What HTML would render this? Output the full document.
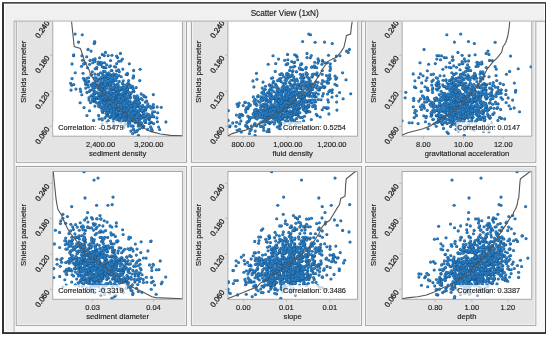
<!DOCTYPE html><html><head><meta charset="utf-8"><title>Scatter View (1xN)</title><style>html,body{margin:0;padding:0;background:#fff;overflow:hidden}svg{display:block}</style></head><body>
<svg width="550" height="338" viewBox="0 0 550 338" font-family="'Liberation Sans', Arial, sans-serif">
<defs><radialGradient id="g" cx="0.42" cy="0.4" r="0.62"><stop offset="0" stop-color="#3089cb"/><stop offset="0.55" stop-color="#2272b4"/><stop offset="1" stop-color="#154d83"/></radialGradient><marker id="d" markerUnits="userSpaceOnUse" markerWidth="6" markerHeight="6" refX="3" refY="3" overflow="visible"><circle cx="3" cy="3" r="1.55" fill="url(#g)"/></marker></defs>
<rect x="0" y="0" width="550" height="338" fill="#fff"/>
<rect x="2" y="2" width="544" height="332" fill="#333"/>
<rect x="2" y="2" width="544" height="1.6" fill="#4a4a4a"/>
<rect x="4" y="3.7" width="541" height="328.4" fill="#fff"/>
<rect x="5" y="4.7" width="539" height="326.3" fill="#f0f0f0"/>
<text x="284.7" y="15.9" font-size="8.2" text-anchor="middle" fill="#1c1c1c" stroke="#1c1c1c" stroke-width="0.15">Scatter View (1xN)</text>
<rect x="14" y="21" width="531" height="311" fill="#f7f7f7"/>
<line x1="14" y1="21.2" x2="545" y2="21.2" stroke="#9e9e9e" stroke-width="1"/>
<line x1="14.1" y1="21" x2="14.1" y2="332" stroke="#b0b0b0" stroke-width="1"/>
<svg x="14.6" y="21.7" width="530" height="309.5" overflow="hidden"><g transform="translate(-14.6,-21.7)">
<g transform="translate(16.3,3.4)">
<rect x="0" y="0" width="170.2" height="158.9" fill="#e4e4e4" stroke="#a4a4a4" stroke-width="1"/>
<rect x="1" y="1" width="168.2" height="156.9" fill="none" stroke="#f4f4f4" stroke-width="0.8"/>
<rect x="36.5" y="5" width="129.6" height="127.8" fill="#fff" stroke="#a9a9a9" stroke-width="1.0"/>
<line x1="33.5" y1="16.8" x2="36.5" y2="16.8" stroke="#aaa" stroke-width="0.7"/>
<text transform="translate(33.6,19.7) rotate(-55)" font-size="7.6" text-anchor="end" fill="#1c1c1c" stroke="#1c1c1c" stroke-width="0.3">0.240</text>
<line x1="33.5" y1="51.8" x2="36.5" y2="51.8" stroke="#aaa" stroke-width="0.7"/>
<text transform="translate(33.6,54.7) rotate(-55)" font-size="7.6" text-anchor="end" fill="#1c1c1c" stroke="#1c1c1c" stroke-width="0.3">0.180</text>
<line x1="33.5" y1="87.8" x2="36.5" y2="87.8" stroke="#aaa" stroke-width="0.7"/>
<text transform="translate(33.6,90.7) rotate(-55)" font-size="7.6" text-anchor="end" fill="#1c1c1c" stroke="#1c1c1c" stroke-width="0.3">0.120</text>
<line x1="33.5" y1="122.8" x2="36.5" y2="122.8" stroke="#aaa" stroke-width="0.7"/>
<text transform="translate(33.6,125.7) rotate(-55)" font-size="7.6" text-anchor="end" fill="#1c1c1c" stroke="#1c1c1c" stroke-width="0.3">0.060</text>
<text transform="translate(10,68.4) rotate(-90)" font-size="7.65" text-anchor="middle" fill="#1c1c1c" stroke="#1c1c1c" stroke-width="0.15">Shields parameter</text>
<line x1="84.2" y1="132.8" x2="84.2" y2="135.3" stroke="#aaa" stroke-width="0.7"/>
<text x="84.2" y="143.5" font-size="7.5" text-anchor="middle" fill="#1c1c1c" stroke="#1c1c1c" stroke-width="0.15">2,400.00</text>
<line x1="132.6" y1="132.8" x2="132.6" y2="135.3" stroke="#aaa" stroke-width="0.7"/>
<text x="132.6" y="143.5" font-size="7.5" text-anchor="middle" fill="#1c1c1c" stroke="#1c1c1c" stroke-width="0.15">3,200.00</text>
<text x="101.3" y="152.8" font-size="7.65" text-anchor="middle" fill="#1c1c1c" stroke="#1c1c1c" stroke-width="0.15">sediment density</text>
<clipPath id="c0"><rect x="36.5" y="5" width="129.6" height="127.8"/></clipPath>
<g clip-path="url(#c0)">
<polyline points="118,109.7 122.3,116 87.8,101.9 93.1,90.6 84.1,75.7 119.5,96.2 117.3,106.4 98.1,109.5 119.8,84.2 98.1,63.1 93.9,93.3 133.1,115 95.5,111.7 88,64.1 101.2,94.6 132.9,120.2 63.8,99.4 110.8,114.1 73.2,107.4 87.5,105.5 109.4,108.6 117.6,88.1 104.5,99 129.2,106.9 77.9,90.8 91.4,82.5 109.2,119.3 116,102.1 91.1,112 118.5,100.8 123.5,115.6 130.4,97.7 95.2,98.6 91.5,102.8 110.5,112.8 67.7,104.2 135.2,113.3 132.6,116.3 92.2,94.2 98,113.5 70.6,74.9 77.7,84.8 111.7,122.7 97.1,93.3 112.8,113.4 105.2,97.5 98.6,97.3 114.8,122.6 119.2,101.7 118.7,102.1 76.8,79.6 104.6,114.4 81.7,84.4 137.4,113.4 119.6,103.2 114.8,110.2 87.1,68 87.7,87.8 78.3,38.8 106.5,86.3 85.1,82.1 99.8,82.2 116.3,107.1 111.5,99.1 92.4,70.5 124.8,104.2 101.4,94.8 86.7,98.3 88.1,87 99.9,103.7 131.5,100.5 114,93.9 87,96.3 109.6,110.5 100.8,81 113.6,115.7 127.2,114.6 103.8,115.5 78.7,79.5 125.5,103.6 91.1,111.9 98.6,113.8 99.4,90.6 113.3,112.9 85.4,115.4 109.3,86.9 88.5,114.5 114.6,103.1 121.8,98.1 92.6,104.9 89.2,98.9 99.8,70.8 101.3,105.9 109.2,115.2 123,121.2 119.7,101.3 85,103.5 92.1,93.5 111,105.1 93,105.3 105.4,108.7 90.1,105.9 87,95.3 114.4,103.9 107.9,96.3 106.1,55.6 109.2,89.5 123.7,118.6 113,60.4 109.4,92 116.7,111.5 106.9,80.8 105,97.7 116.3,107.2 123,107.5 70.6,112.1 94.3,97.2 96.8,77.2 100.3,103.1 105.1,90.6 76.6,56.4 107.5,114.7 96.9,93.6 103.5,102.8 127.6,112.9 125.8,112.5 117.8,98.3 87.7,90.4 103.8,106.1 101.8,97.1 86.7,84.7 76.3,92.9 77.6,81.6 86.9,89.8 98.8,89.3 102.4,57.8 104.5,86.7 122.7,95.8 111.3,84.9 118,111.2 108.1,103.3 82.2,83.2 107.2,86.5 78.8,65.4 95.6,97.8 102.8,117.5 83.3,54.3 87.9,76.7 103.3,112.9 111,69.9 92.2,97.5 109.6,121 97.1,104.5 99,105.8 89.6,64.3 91.5,109.6 126.3,102 88.1,102.4 107.8,103.9 109.8,111.2 88.4,94.3 80.2,77 54.7,86.7 108.5,111.3 107.8,114 87.1,96 116.9,108.5 106.3,107.5 122.9,119.7 101.3,54.2 87.5,80.6 90.5,111.9 88.2,80.8 78.5,70.7 131.4,126 118.6,106.3 110.1,104 75.9,86.2 87.5,100 119.7,101.7 85.1,99 73.7,57 74.7,47.7 93.9,106 114.6,111.3 65.9,31.4 82.3,112 101.2,106.7 91.7,97.4 96.3,89.4 92.8,78.1 95.1,91.2 109.5,110.6 70.6,89 93.5,93.7 77.7,56.3 101.1,98.2 118.4,116.1 90.1,112.8 88.6,68 103.7,106.2 142.3,123.6 112,106.8 77.4,98 92.3,74.4 126.2,112.4 94,85.8 107.3,83.2 120.5,108.4 104,101 76.4,59.4 73.3,60.8 93.1,81.9 83.8,92.2 82.1,75.6 115.8,100.3 114.9,99.5 99.3,110.5 94.9,97.9 123.4,99.3 58.8,30.6 109.7,101.1 95.2,72.5 111,71.2 120.6,101 96.4,74.9 107.3,124.3 105,96.4 55.4,81.9 143.3,126.1 93.7,114.1 69,77.5 97.4,102.1 121.4,113.4 128,103.8 106.1,106.2 69.4,84.7 77.5,90 115.4,102.4 95.1,107.9 122.2,98.9 91.8,71.1 127.1,91.9 96.2,86.4 83,100.4 113.6,115.6 119.7,108.5 97.3,86.1 111.1,96.3 135.8,111 104.5,119.1 91.6,96.1 106.6,103.3 136.9,103.5 109.9,103.2 94,93.1 88.4,92.9 111.7,79.6 101.5,80.3 81.6,71 86.7,83 130.3,103.3 94.5,98.9 108.9,89.2 107.5,102.9 78.6,88.2 55.7,75.2 91.1,109.7 122,120.6 79.7,74.3 103.8,97.7 83.5,85 129.4,116.1 81.7,60.4 86.3,84.4 110.3,100 140.8,103.5 88.6,96.1 116.9,100.7 108.3,102.4 97.4,113.6 98.2,72.7 90.8,98.6 105.3,96.8 107.2,96.4 117,125.8 100.8,88.6 121.6,103.2 111.9,102.6 100.2,96.8 110.8,111.9 79.7,82.2 94.5,108.3 115.1,111 127.1,110.5 107.2,95.3 96.4,84.2 94,107 120.9,118 97.5,77.3 132.1,113 78.1,74.3 79.6,98.9 109.3,108.4 126.8,107.6 82.5,89.8 112.8,81.2 83,101.2 54.3,79.9 104.1,50 111.3,101.3 101.3,114 104,112.9 108.7,116.7 114.6,107.6 107.5,108.7 109.4,116 100,88.5 114.6,127.7 97,115.9 87.9,52.2 81.3,77.9 112,88.7 84.8,89.9 88.2,59.4 101.2,88.4 93.6,96.7 132,114.9 74.2,99.2 120.4,108.8 136.3,108.5 115.5,108.6 128.9,98.7 116.3,103.2 94.7,81.6 108.3,116 106.3,100.7 66.2,56.8 109.6,97.4 87.8,74.2 92.3,75.6 74.8,71.3 106.7,84.4 118.3,116.6 115.4,102.2 87.8,103.9 112.7,118.4 93,105.1 110.4,115.1 109.9,119.5 114.3,94.4 119.2,98.7 105.9,108.2 120.8,111.6 88.3,106.2 100.4,104.1 113.6,104.3 93.2,98.9 99.2,104.7 90,91.2 87.2,88.7 83.6,91.8 100.7,107.9 102.6,107.3 78.7,90.3 137,101.2 120.5,98.7 135.7,126.8 118.6,128.4 100.6,92.2 74.7,92.3 58.9,69.4 116.3,84.7 100,94.2 111.6,97.7 110.5,117.1 71.8,81.3 89.2,107.1 88.8,89.1 120,94.6 100.4,93.3 80.7,81.1 115.9,105.5 105.8,104 116.4,110.4 144.9,103.9 94.1,62.3 106.7,103.7 90.3,74.5 76.1,82.5 109.8,84.6 85.8,83 101.8,112.4 102.8,91.5 71.1,64.4 91.5,108.3 108.1,98.8 108.8,108.2 91.1,92.5 131.2,113.2 87.6,63.8 95.2,103.9 120,118.3 84.3,58.8 69.4,79.4 92.8,88.7 90.4,88.5 92.8,103.6 106.1,101.6 89,84.7 69.7,80.6 84.8,80.2 93.8,94.4 123.5,105.2 111,101.1 79.4,76.3 103,68.3 92.2,103.3 89.7,105.3 86.7,73 85.8,84.7 85.4,85.2 103.2,115.8 125.1,103.8 103.3,105.9 103.4,94.5 111.5,119.7 96.7,72.4 87.2,92.8 103,90.3 110.1,114.4 83.2,98.4 91.3,70.9 110.9,118.6 87.5,92.7 82.4,85.2 138.3,108.3 100.8,82.8 120.5,103.2 104.9,73.4 88.2,88.6 94.7,94.2 65.6,52.4 91.6,82.4 82.2,71.5 140.6,114.5 99.7,107.7 99.2,82.3 69.4,80.8 94.8,98.9 98.2,83.5 99.1,112.9 107.4,94.4 93.9,114 92.2,92.1 92,105.4 102.1,107.6 97.5,97.1 78.8,58.1 124.2,112.4 102,107.1 98,77.2 105.6,104.5 85.7,59.4 110.6,94.2 72.7,96.5 100.8,91.8 100.3,60.2 93.5,86.1 110.3,88.8 104.6,93.7 149.6,118.5 111.8,110.8 95.6,67.1 110.8,82.6 109.5,89 111.2,86.4 108.5,106.3 82.7,92.1 98.1,111 137,91.2 100.8,108.6 98.8,101.4 106.7,90 90.2,103.1 107,86.2 78.6,89.9 91.7,91.7 109.9,71.1 113.1,117.6 129.1,118.8 77.2,86.8 92.3,80.1 57.2,52.3 94.6,84 114.5,82.4 102.5,110.8 104.2,84.1 100.6,85.7 129.4,112.9 123,110.9 109.4,99.8 107.2,93 116.4,130.1 106.9,96.8 99.2,94.1 99.1,100.8 110.5,93.4 89.5,89.9 123.1,112.4 87,90.7 89.7,102 99.4,111.5 78.4,94.4 117.3,67 128.1,117.4 119,119.4 112.8,119.4 70.4,53.4 107.2,102 90.8,99 92.1,109.5 105.3,111.5 116.8,122.9 76.3,95.1 105.6,93.6 107.9,122.5 117.3,112.7 117.7,109 96.5,98.4 95,93.8 98.8,75.9 90.4,70.2 123.4,77.2 86.2,70.7 118.4,114.2 129.2,106.4 87.7,75.5 111.9,93 99.6,97.7 125.7,122.5 124.9,121.4 85.4,84.5 106.4,92.1 82.3,102.7 136.9,104.4 113.3,120.1 76.5,91.5 72.4,78 65.2,62.9 78.5,97.2 111.3,101.3 105.6,113.4 117.1,73.6 84.8,61.2 125.2,107.2 85.2,93 99.2,96.5 93.8,106.7 121,126.9 107.4,103.7 73.8,87 118.8,117.3 121.7,110.2 122.1,131.8 102.7,72.1 112.5,89.1 99.9,97.2 93.5,102.3 108.5,107.5 103.5,99.3 133.9,102.9 122.9,101.9 97.1,98.6 78.1,95.9 80.2,65.4 120.1,117.3 88.7,93.5 91.5,107.4 114.1,113.9 117.3,125.8 102.8,87 106.2,112.1 95.4,109.2 108.2,89.9 113.7,113.3 85,97.7 113.6,99.4 90.3,83.3 96.3,78.7 112.8,110.7 93.7,80.8 95.5,99.7 93.5,96.1 111.2,101.5 114.5,83.8 124.8,114.8 129.5,93.7 91.7,75 104.1,102.6 91.8,52.2 105.5,109 95.6,94.5 108.8,105.5 92.8,107.4 112.8,113.7 99.5,106.3 85.5,99 106.1,109.9 89.2,81.5 102.2,66.4 141.1,118.3 85.3,82.6 80.2,95 84.1,94 78.3,38.1 100.4,74.3 110.4,92.4 80.6,95.1 126.2,124.2 94,83.7 86.4,109 95.6,95 102.4,96.4 91.4,79.6 95.6,51.8 96.2,79.1 117.1,72.4 108.3,101.7 100.3,89.9 113.7,83.7 106.7,117.2 57.4,51.4 105.9,108.6 115.5,115.5 93.2,63.2 89.1,49 126.1,108.4 111.7,107.2 43.7,5.3 121.3,96.1 121.9,122.6 94.3,107.2 100.2,52.6 96.2,86 89.9,84.1 93.6,73.6 59.6,85.6 105.9,103.2 97.1,118.8 91,90.1 107.4,113.6 120.7,98.9 68.9,59.7 100.8,88.3 97.3,97 103.7,96.9 100.8,84.5 97.5,80.5 109.1,115.9 87.5,94.9 82.5,60.9 101,84 96.2,109.3 111.4,108.1 134.3,123.3 112.4,109.6 87.3,63.9 104.1,99.1 130.6,110.4 96.5,106.7 101.3,99.8 85.4,99.7 99.6,103.5 141.4,109.3 82.7,86.4 106.5,65.7 87.2,106.6 119.4,106.2 72.3,74.4 115.7,117.5 99.6,106.9 104.8,103.9 96.2,95.2 120.6,102.3 101,110.8 110.7,92.6 104.2,114.4 122.3,120.3 127.5,123 78.8,84.2 137.3,120.2 101.2,90.1 63.9,85.7 116.2,82.9 108.5,100.8 85.6,106.3 102.8,96.6 127.1,107 82.9,115.5 101.2,72.8 100.2,110.9 82.2,58.7 115.4,88.8 129.8,105 96.1,90.3 90.2,73.4 85.9,116.6 95.8,111.3 135.2,112.8 125,95.2 114.1,90.9 113.6,97.5 120.1,108.8 98.3,106 84.5,74.5 94.4,76.1 92.5,95.8 115.9,115.8 100.6,86.6 127.9,93 98.3,93.7 55.7,60.5 75.4,82.7 122.4,111.9 96.6,111.8 66.7,69.8 82.2,94.5 82.9,81.2 100.1,99.7 108.7,111.6 120.7,92.4 99.4,63.6 98.7,91 94.1,113 95.6,101.9 124.4,104.6 92.4,93.8 89.6,76.5 86,51 117.9,92.6 82.8,103.3 78.5,95.1 86.5,96.1 84.7,103.2 90,96 126,96.4 137.2,113.2 111.1,86.3 96.2,102.2 132.1,110.8 84.5,87.4 97.7,104.1 104.7,57.5 99.2,87.7 90.6,95.1 122.4,107.9 116.2,103 86.9,80.2 115.9,107.1 102,82.2 98.6,122.9 87.4,93.2 57.4,81.1 82.4,90.7 96.8,96.8 68.2,76.8 97.2,109.4 112.9,111.1 93.7,94.9 88.3,72.3 107.4,89 115.8,99.9 98.4,91.5 94.6,88.8 110.1,114.2 119.1,128.6 132.4,111.6 77.3,117 117.5,105.7 132.4,113.7 127.7,109.6 101.7,88.9 108.8,95.1 95.9,97.1 67.8,60.2 90.1,103.9 78.6,102.7 97.2,70.5 109.6,112.5 121.5,118.3 92.4,69.3 124.8,90.5 117,85.3 97.5,84.5 90.8,78.7 99.9,103.8 89.2,97.6 98.7,112.3 80.3,93.8 113.2,92.1 100.4,103.4 100.4,83.6 45.7,11.5 118.2,112.7 87.6,80 107,77.4 85.7,74.5 100.4,108.1 93.5,71.2 72,83.5 105.2,97.9 93.3,101.4 86.7,91.4 99.8,77.1 88,78.2 62.2,38.7 119,101.3 81.4,83.7 116.8,102.4 111.9,80.2 105,93.1 134.8,104.8 120,114.2 89.6,107.2 105.4,91 85.9,63.3 88.6,80.3 104.9,112.7 112.4,103.2 85.4,94.9 97.2,97.8 106.7,94.8 84.7,81.1 83.7,92.6 108.6,107.1 122.9,121.3 109.8,102.2 135.1,119 81,99.7 92.4,91.7 116.6,115.7 94.9,99.9 131.9,103.1 78.8,55.5 94.7,90.1 126.3,121.8 89.4,90.6 85.1,91.2 97.8,101.7 111.4,104.4 73,88.1 85.5,86.9 65.5,91.3 103.7,112.8 102.3,102.9 129.1,119.1 123.7,118.5 125.7,107.5 122.1,113.8 117.9,105.6 77.9,40.1 113.2,90.9 114.9,112 135,125 110.2,111.5 128.8,118.3 123.3,125.4 108.6,87.1 95.4,107.1 97.8,92.5 41.7,13.5 86.9,95.5 100.2,98.1 110.9,94.2 105.3,104.1 97.9,111.6 93.7,103.3 70.9,78.3 84.8,104.1 118.1,117.8 113.8,116.5 121,114 122.3,99.7 91.5,91.6 83.1,91.6 80.9,76.9 108.1,102.8 95.7,84.3 78.3,94 99.6,86.7 97.4,121.9 116.7,74.6 90.4,118.9 113.4,114.4 108.8,84.6 93,104.7 67.4,60.6 98.7,95.9 115.5,112.9 108.7,95.8 105.1,104.6 123.8,65.9 80.4,63.8 96.9,84.7 93.8,104.5 89.2,96.8 94.5,78 89.8,109.9 100.8,109.8 78.2,82.3 105.3,84.6 91,101.8 119.6,102.4 116.2,122.4 67.1,74.8 92.7,100 92,117.2 97.9,113.8 118.1,111 90.3,61.4 103.7,85.5 100.4,116.2 94.2,57.1 94,70.9 128.2,113 120.4,128.1 106,79.6 119,107.1 88.2,100.2 102.6,106 88.8,72.7 100.2,67.3 86.9,82.9 113.4,100.4 112.1,93.5 101,86.7 134.2,118.6 86.5,73.1 99.2,103 88.5,93.5 99,95.6 75.2,80.8 112.3,77.1 71.7,46 130.6,103.4 109.1,110.9 89.2,95.6 104.9,107.6 110.1,81.5 119.3,109.6 106.8,95.5 84,79.7 102.9,78 118.2,94.1 76,68.4 75,71.5 125.2,119.6 83.3,91.3 90,94.5 108.5,102.3 120.6,107.1 118.9,96.7 100.1,90.6 92.3,92.7 84.1,69.3 92.7,78.1 111.6,106.4 95,108.7 88.8,81.3 109.8,107.9 86.8,94.5 80.2,88.8 84.6,77.2 64.4,88 94.9,67.1 112.5,104.5 90.6,84.9 107.9,107.3 72.7,94.1 83.1,95.2 116.9,110.8 135.4,127.4 85.7,78.8 83.6,90.9 97.7,94.9 86,107.8 110.7,102.6 88,89.2 76.1,97 85.9,74.1 96.8,95.3 104.6,109.4 101.2,86.2 92.1,107 121.6,93.6 85.9,120.6 115,102.9 117.2,87.3 107.6,107.3" fill="none" stroke="none" marker-start="url(#d)" marker-mid="url(#d)" marker-end="url(#d)"/>
<polyline points="36.9,5 55.2,17.6 56.5,29.9 57.9,43.2 64.1,45 65.9,50.3 68.5,58.3 73,67.1 74.1,70.7 79.8,80.4 88,91 96.1,98.4 104.3,105.7 112.4,112.2 120.6,118.7 124,123 134.1,128 144.1,130.6 154.2,132 166.1,132.5" fill="none" stroke="#555" stroke-width="1.1"/>
</g>
<rect x="36.9" y="118.5" width="74" height="10.5" fill="#fff" fill-opacity="0.72"/>
<text x="41.9" y="126.4" font-size="7.4" fill="#1c1c1c" stroke="#1c1c1c" stroke-width="0.15">Correlation: -0.5479</text>
</g>
<g transform="translate(191.4,3.4)">
<rect x="0" y="0" width="170.2" height="158.9" fill="#e4e4e4" stroke="#a4a4a4" stroke-width="1"/>
<rect x="1" y="1" width="168.2" height="156.9" fill="none" stroke="#f4f4f4" stroke-width="0.8"/>
<rect x="36.5" y="5" width="129.6" height="127.8" fill="#fff" stroke="#a9a9a9" stroke-width="1.0"/>
<line x1="33.5" y1="16.8" x2="36.5" y2="16.8" stroke="#aaa" stroke-width="0.7"/>
<text transform="translate(33.6,19.7) rotate(-55)" font-size="7.6" text-anchor="end" fill="#1c1c1c" stroke="#1c1c1c" stroke-width="0.3">0.240</text>
<line x1="33.5" y1="51.8" x2="36.5" y2="51.8" stroke="#aaa" stroke-width="0.7"/>
<text transform="translate(33.6,54.7) rotate(-55)" font-size="7.6" text-anchor="end" fill="#1c1c1c" stroke="#1c1c1c" stroke-width="0.3">0.180</text>
<line x1="33.5" y1="87.8" x2="36.5" y2="87.8" stroke="#aaa" stroke-width="0.7"/>
<text transform="translate(33.6,90.7) rotate(-55)" font-size="7.6" text-anchor="end" fill="#1c1c1c" stroke="#1c1c1c" stroke-width="0.3">0.120</text>
<line x1="33.5" y1="122.8" x2="36.5" y2="122.8" stroke="#aaa" stroke-width="0.7"/>
<text transform="translate(33.6,125.7) rotate(-55)" font-size="7.6" text-anchor="end" fill="#1c1c1c" stroke="#1c1c1c" stroke-width="0.3">0.060</text>
<text transform="translate(10,68.4) rotate(-90)" font-size="7.65" text-anchor="middle" fill="#1c1c1c" stroke="#1c1c1c" stroke-width="0.15">Shields parameter</text>
<line x1="51.7" y1="132.8" x2="51.7" y2="135.3" stroke="#aaa" stroke-width="0.7"/>
<text x="51.7" y="143.5" font-size="7.5" text-anchor="middle" fill="#1c1c1c" stroke="#1c1c1c" stroke-width="0.15">800.00</text>
<line x1="96.5" y1="132.8" x2="96.5" y2="135.3" stroke="#aaa" stroke-width="0.7"/>
<text x="96.5" y="143.5" font-size="7.5" text-anchor="middle" fill="#1c1c1c" stroke="#1c1c1c" stroke-width="0.15">1,000.00</text>
<line x1="140.5" y1="132.8" x2="140.5" y2="135.3" stroke="#aaa" stroke-width="0.7"/>
<text x="140.5" y="143.5" font-size="7.5" text-anchor="middle" fill="#1c1c1c" stroke="#1c1c1c" stroke-width="0.15">1,200.00</text>
<text x="101.3" y="152.8" font-size="7.65" text-anchor="middle" fill="#1c1c1c" stroke="#1c1c1c" stroke-width="0.15">fluid density</text>
<clipPath id="c1"><rect x="36.5" y="5" width="129.6" height="127.8"/></clipPath>
<g clip-path="url(#c1)">
<polyline points="66.7,109.7 73.9,116 96.9,101.9 126.9,90.6 144.3,75.7 83.7,96.2 72.7,106.4 62.9,109.5 92.6,84.2 138.7,63.1 66.2,93.3 105.2,115 93.7,111.7 123.2,64.1 71.2,94.6 78.3,120.2 102.4,99.4 48.5,114.1 66.7,107.4 83.2,105.5 93.2,108.6 71.7,88.1 101.7,99 106.4,106.9 94.6,90.8 107.5,82.5 108.7,119.3 51.8,102.1 51.2,112 106.3,100.8 99.2,115.6 117.5,97.7 145.2,98.6 86,102.8 82.9,112.8 115.8,104.2 75.4,113.3 75,116.3 108,94.2 71.9,113.5 96.2,74.9 92.7,84.8 59.9,122.7 124.7,93.3 85.2,113.4 110.5,97.5 91.4,97.3 65.2,122.6 101.1,101.7 46.9,102.1 112.8,79.6 82.5,114.4 96.2,84.4 47.6,113.4 100.6,103.2 99.3,110.2 83.8,68 105.5,87.8 123.7,38.8 98.4,86.3 145.5,82.1 80.5,82.2 90.4,107.1 53.4,99.1 115.7,70.5 77.8,104.2 109.4,94.8 123.1,98.3 111.2,87 69.6,103.7 98.9,100.5 91.5,93.9 123.5,96.3 100.5,110.5 114,81 91.7,115.7 76.9,114.6 85.4,115.5 115.9,79.5 98.2,103.6 73.1,111.9 96.2,113.8 136.1,90.6 76.8,112.9 90.3,115.4 138.6,86.9 57.7,114.5 90.4,103.1 104.7,98.1 74.5,104.9 88.1,98.9 121.1,70.8 65,105.9 76.4,115.2 73.5,121.2 123,101.3 106.9,103.5 110.9,93.5 88.1,105.1 56.2,105.3 94.6,108.7 69.3,105.9 151.7,95.3 69.5,103.9 112.6,96.3 87.1,55.6 78,89.5 55.8,118.6 138.9,60.4 93.9,92 72.9,111.5 143.6,80.8 108.2,97.7 73.4,107.2 83.4,107.5 82.9,112.1 101.3,97.2 111.8,77.2 89.7,103.1 95.6,90.6 106.3,56.4 73.6,114.7 98.9,93.6 99.7,102.8 91.9,112.9 93,112.5 124.3,98.3 159.3,90.4 102.4,106.1 84.8,97.1 70.8,84.7 113.3,92.9 102.7,81.6 101.1,89.8 70.3,89.3 131.3,57.8 119.3,86.7 95.1,95.8 119.3,84.9 86.8,111.2 102.6,103.3 92.6,83.2 128,86.5 114.4,65.4 111.7,97.8 112.2,117.5 118.9,54.3 101.4,76.7 107.2,112.9 65,69.9 77.9,97.5 62.9,121 84.2,104.5 93,105.8 108,64.3 67.8,109.6 117.6,102 122.2,102.4 89.4,103.9 91.5,111.2 95.8,94.3 105.3,77 78,86.7 69.9,111.3 58.1,114 87.8,96 100.8,108.5 79.4,107.5 78.7,119.7 115.6,54.2 99.1,80.6 80.3,111.9 120.2,80.8 122.4,70.7 77.5,126 78.3,106.3 92.9,104 127.5,86.2 87.8,100 85.6,101.7 104.7,99 131,57 155.1,47.7 102,106 104.5,111.3 119.1,31.4 63.5,112 54.2,106.7 109.9,97.4 124.4,89.4 110.5,78.1 99.4,91.2 94.3,110.6 140.6,89 71,93.7 96.4,56.3 92.7,98.2 119.9,116.1 81.3,112.8 101.1,68 80.8,106.2 85.9,123.6 91.1,106.8 76.8,98 109.5,74.4 64.2,112.4 73.7,85.8 122.2,83.2 74.2,108.4 75.6,101 135.9,59.4 130.5,60.8 99,81.9 103.6,92.2 87.7,75.6 73.2,100.3 120.4,99.5 61.7,110.5 110.8,97.9 94.9,99.3 117.3,30.6 87.3,101.1 126.5,72.5 111.7,71.2 108.3,101 80.1,74.9 56.3,124.3 136.4,96.4 84.7,81.9 76.9,126.1 108.9,114.1 61.5,77.5 58,102.1 84.1,113.4 75.3,103.8 63.6,106.2 113.8,84.7 121.7,90 94.3,102.4 76.3,107.9 68.3,98.9 88.5,71.1 111.1,91.9 126.5,86.4 63.6,100.4 84,115.6 76.5,108.5 73,86.1 111.3,96.3 96,111 106,119.1 75.1,96.1 91.2,103.3 74.4,103.5 102.1,103.2 83.4,93.1 117.4,92.9 137.2,79.6 109.1,80.3 124.8,71 101.4,83 111.3,103.3 93.7,98.9 94.4,89.2 114.7,102.9 137.5,88.2 138.8,75.2 66.6,109.7 67.6,120.6 81.3,74.3 87.5,97.7 105.3,85 99.3,116.1 110.3,60.4 101.5,84.4 110.4,100 117.1,103.5 64,96.1 45.6,100.7 104.8,102.4 99.8,113.6 100.3,72.7 137,98.6 97,96.8 129.6,96.4 59.8,125.8 98.1,88.6 78.4,103.2 122,102.6 118.5,96.8 96.8,111.9 105.5,82.2 82.7,108.3 106.5,111 137.5,110.5 97.2,95.3 106.8,84.2 94.5,107 56.9,118 118.9,77.3 83.7,113 112.6,74.3 118.8,98.9 107.2,108.4 114,107.6 87.3,89.8 99.9,81.2 95.8,101.2 94.2,79.9 115.6,50 110.7,101.3 90.7,114 99.7,112.9 103.3,116.7 85.2,107.6 80.3,108.7 87.2,116 91.2,88.5 63.8,127.7 74.4,115.9 119.9,52.2 110.2,77.9 86.5,88.7 77.5,89.9 102.5,59.4 90.9,88.4 88.8,96.7 77.6,114.9 101.3,99.2 84.5,108.8 95.8,108.5 106.1,108.6 115.3,98.7 112.2,103.2 78.2,81.6 89.3,116 89.9,100.7 93.3,56.8 115.5,97.4 111.6,74.2 105.4,75.6 115.4,71.3 132.8,84.4 100.9,116.6 102.6,102.2 87.1,103.9 96,118.4 124.1,105.1 100.5,115.1 41.3,119.5 112.7,94.4 107.6,98.7 117.4,108.2 45,111.6 90.9,106.2 113.2,104.1 108,104.3 54.1,98.9 56.7,104.7 117.8,91.2 118.3,88.7 86.2,91.8 98.4,107.9 115.9,107.3 101.7,90.3 98.2,101.2 94.3,98.7 72.3,126.8 77.7,128.4 80.3,92.2 145.3,92.3 114.7,69.4 116.9,84.7 78.9,94.2 84.4,97.7 101,117.1 110.6,81.3 78.3,107.1 85.5,89.1 110.2,94.6 103,93.3 116.1,81.1 79.2,105.5 96.4,104 98.8,110.4 87.5,103.9 122.9,62.3 72.8,103.7 110.3,74.5 119.7,82.5 100.3,84.6 91.5,83 125.9,112.4 84.6,91.5 125.3,64.4 118.5,108.3 99.5,98.8 78.2,108.2 102.4,92.5 92.6,113.2 114.7,63.8 74.7,103.9 80.3,118.3 123.4,58.8 81.6,79.4 103.4,88.7 95.3,88.5 115.5,103.6 69.4,101.6 101.1,84.7 84,80.6 120,80.2 111.2,94.4 88.6,105.2 71.8,101.1 154.6,76.3 104.9,68.3 100,103.3 107.9,105.3 97.2,73 103.8,84.7 109.3,85.2 88.5,115.8 107.3,103.8 76.5,105.9 112.1,94.5 93.2,119.7 99.4,72.4 119.8,92.8 88,90.3 78.5,114.4 94,98.4 130.7,70.9 69.5,118.6 106.6,92.7 87,85.2 75.3,108.3 74,82.8 89.1,103.2 92.2,73.4 89.7,88.6 92.6,94.2 81.6,52.4 112.7,82.4 138.3,71.5 95.6,114.5 84.4,107.7 106.3,82.3 123.3,80.8 86.8,98.9 109.8,83.5 113.1,112.9 83.8,94.4 80.9,114 99.5,92.1 81.1,105.4 66.8,107.6 95.8,97.1 100.3,58.1 85.6,112.4 86.7,107.1 86.1,77.2 54.9,104.5 133.3,59.4 73.8,94.2 97.6,96.5 113.5,91.8 84.3,60.2 96.7,86.1 76.5,88.8 85.6,93.7 103.5,118.5 91.3,110.8 130.9,67.1 115.7,82.6 109.8,89 93.3,86.4 130.8,106.3 78.9,92.1 50.1,111 95.6,91.2 70.3,108.6 104,101.4 85.1,90 106.3,103.1 95.8,86.2 79.6,89.9 95.4,91.7 100.8,71.1 96.2,117.6 45.2,118.8 80.6,86.8 117.7,80.1 148.5,52.3 106.4,84 115,82.4 102.8,110.8 108.5,84.1 120.7,85.7 70.9,112.9 124.9,110.9 57.3,99.8 107,93 58,130.1 70.6,96.8 81.8,94.1 111.7,100.8 84.7,93.4 94.7,89.9 101,112.4 85.2,90.7 94.8,102 80.2,111.5 86.6,94.4 98.2,67 94,117.4 89.1,119.4 98.8,119.4 105.6,53.4 74.8,102 95.4,99 81.4,109.5 88.2,111.5 44.4,122.9 82.6,95.1 140.6,93.6 54.3,122.5 91.9,112.7 67.4,109 87.5,98.4 99.9,93.8 65.5,75.9 90.1,70.2 131.1,77.2 96.9,70.7 70.1,114.2 112.1,106.4 102.7,75.5 100.3,93 97.3,97.7 87.7,122.5 98,121.4 118.8,84.5 66.7,92.1 124,102.7 93.7,104.4 90.3,120.1 100,91.5 89.5,78 103.2,62.9 74.5,97.2 116.9,101.3 94.4,113.4 120.7,73.6 94.7,61.2 79.5,107.2 110.3,93 63.2,96.5 145.5,106.7 45.8,126.9 77.3,103.7 89.2,87 57.8,117.3 88,110.2 63.6,131.8 135.1,72.1 148.1,89.1 96.7,97.2 93.7,102.3 75.9,107.5 91.8,99.3 111.7,102.9 91.9,101.9 103.5,98.6 103.9,95.9 139.1,65.4 71.8,117.3 112.7,93.5 65.7,107.4 67.6,113.9 48.1,125.8 98.6,87 74.1,112.1 100.3,109.2 115.7,89.9 69.4,113.3 76.4,97.7 112.9,99.4 133.5,83.3 71.6,78.7 86.3,110.7 107.6,80.8 88.9,99.7 97.5,96.1 71,101.5 81.1,83.8 64.6,114.8 100.4,93.7 117.8,75 115,102.6 104.9,52.2 100.7,109 93.6,94.5 90.3,105.5 95.4,107.4 91.3,113.7 73.5,106.3 92.2,99 72.7,109.9 109.8,81.5 111.2,66.4 76.1,118.3 131.6,82.6 93.4,95 81.6,94 111.2,38.1 94.4,74.3 98.8,92.4 112.5,95.1 72.1,124.2 79.6,83.7 89.7,109 95.6,95 121,96.4 135.8,79.6 137.1,51.8 97.9,79.1 138.1,72.4 102.1,101.7 106.5,89.9 84,83.7 95.6,117.2 103.2,51.4 75.8,108.6 58.3,115.5 123.6,63.2 156.8,49 83.8,108.4 71.6,107.2 160.6,5.3 126.8,96.1 70.8,122.6 114.8,107.2 144.9,52.6 121,86 129.9,84.1 98.3,73.6 93.9,85.6 85,103.2 83.2,118.8 113.4,90.1 128.8,113.6 78.6,98.9 126.4,59.7 82.4,88.3 113.9,97 84.9,96.9 109.4,84.5 93.1,80.5 82.5,115.9 90.9,94.9 76.8,60.9 85.9,84 87.2,109.3 85.5,108.1 38.3,123.3 88.6,109.6 99.2,63.9 83.8,99.1 67,110.4 104.6,106.7 64.2,99.8 89.6,99.7 81,103.5 96.5,109.3 140.9,86.4 109.9,65.7 84.6,106.6 69.9,106.2 136.8,74.4 49.5,117.5 94.9,106.9 106.2,103.9 86.9,95.2 101.8,102.3 89.8,110.8 110.6,92.6 87.7,114.4 48.2,120.3 69.1,123 128,84.2 63.6,120.2 85.3,90.1 79.1,85.7 121.8,82.9 79.9,100.8 84,106.3 103.4,96.6 93.9,107 65.8,115.5 120.7,72.8 78.1,110.9 103.3,58.7 72.1,88.8 135.5,105 118.3,90.3 102.3,73.4 85.7,116.6 96.6,111.3 93.1,112.8 79.1,95.2 72.1,90.9 79.6,97.5 63.3,108.8 88.2,106 145.3,74.5 136.9,76.1 75.3,95.8 75.3,115.8 116.1,86.6 123.1,93 92.1,93.7 95.9,60.5 116.7,82.7 66.1,111.9 78.1,111.8 95.5,69.8 83.5,94.5 114.6,81.2 47.8,99.7 62.3,111.6 77.3,92.4 101.8,63.6 117.1,91 72.3,113 65.2,101.9 86.8,104.6 97.5,93.8 137.4,76.5 96.1,51 83.9,92.6 56.8,103.3 71.7,95.1 96.3,96.1 121.1,103.2 95.2,96 102.2,96.4 95.9,113.2 86,86.3 86.6,102.2 99.7,110.8 103.6,87.4 134.8,104.1 127.3,57.5 111.6,87.7 85.6,95.1 103.5,107.9 91.3,103 113.9,80.2 93.6,107.1 125.6,82.2 55.6,122.9 111.6,93.2 114.9,81.1 123.3,90.7 91.7,96.8 93.8,76.8 114.9,109.4 103,111.1 103.3,94.9 110.9,72.3 108,89 93.7,99.9 86.4,91.5 99.3,88.8 73.3,114.2 49.9,128.6 76.6,111.6 36.7,117 73.6,105.7 81.4,113.7 75.2,109.6 77.1,88.9 79.8,95.1 112.4,97.1 96.3,60.2 77.5,103.9 111.4,102.7 115.4,70.5 97,112.5 74.2,118.3 151.1,69.3 105.6,90.5 97.3,85.3 90.6,84.5 114.3,78.7 107.4,103.8 66.4,97.6 98,112.3 85.9,93.8 89.6,92.1 82,103.4 106.3,83.6 148.6,11.5 56.4,112.7 103.4,80 106,77.4 109.5,74.5 99.8,108.1 91.1,71.2 62.5,83.5 62.5,97.9 65.5,101.4 114.7,91.4 103.2,77.1 135.2,78.2 133.1,38.7 82.1,101.3 92.6,83.7 116.9,102.4 130.2,80.2 74.8,93.1 111.7,104.8 60.1,114.2 36.9,107.2 74.3,91 120.5,63.3 106.5,80.3 75.2,112.7 94.5,103.2 84.9,94.9 87.6,97.8 111,94.8 117.7,81.1 121.5,92.6 87.5,107.1 104,121.3 85,102.2 76.8,119 99,99.7 114.3,91.7 89.1,115.7 96.2,99.9 98.9,103.1 126.6,55.5 131.9,90.1 88.9,121.8 113.9,90.6 98.5,91.2 59,101.7 103.7,104.4 101.3,88.1 118,86.9 110.3,91.3 94.9,112.8 100.2,102.9 55.5,119.1 100.7,118.5 98.4,107.5 71.1,113.8 81.8,105.6 140.8,40.1 102.2,90.9 74.6,112 87.9,125 89.3,111.5 77.1,118.3 88.8,125.4 85.7,87.1 63.3,107.1 131,92.5 108.6,13.5 99.9,95.5 114.6,98.1 95.6,94.2 94.6,104.1 71.1,111.6 99.9,103.3 124.8,78.3 132.5,104.1 87.1,117.8 75.5,116.5 110.9,114 105.1,99.7 108.4,91.6 109.1,91.6 99.6,76.9 95.2,102.8 124.7,84.3 78.7,94 92.7,86.7 54.6,121.9 116.7,74.6 87.4,118.9 70.7,114.4 106.4,84.6 105.5,104.7 109.7,60.6 73.4,95.9 99.3,112.9 69.6,95.8 103,104.6 108.6,65.9 120.2,63.8 95.4,84.7 74.9,104.5 117.9,96.8 117.4,78 105,109.9 105.3,109.8 114,82.3 113.2,84.6 71.3,101.8 112.3,102.4 38.6,122.4 89.4,74.8 97.7,100 87.4,117.2 62.6,113.8 48.4,111 109.1,61.4 91.1,85.5 84.7,116.2 143.5,57.1 108.9,70.9 88.4,113 75.6,128.1 91.5,79.6 65.9,107.1 63.4,100.2 74.3,106 143.6,72.7 101.5,67.3 95.7,82.9 74,100.4 61.9,93.5 118.6,86.7 71.4,118.6 115.6,73.1 46.5,103 69.3,93.5 95.1,95.6 114.6,80.8 87.8,77.1 158,46 101.1,103.4 68.8,110.9 92.8,95.6 114.5,107.6 77.8,81.5 64.9,109.6 92.8,95.5 116.8,79.7 82.1,78 87,94.1 105.2,68.4 95.1,71.5 88.9,119.6 96.9,91.3 82.3,94.5 87.1,102.3 113.4,107.1 102.1,96.7 90.5,90.6 100.2,92.7 125.6,69.3 132.1,78.1 83.5,106.4 54.5,108.7 116.8,81.3 104.2,107.9 109.7,94.5 118.9,88.8 94.9,77.2 104.9,88 138.5,67.1 136.8,104.5 108.7,84.9 64.2,107.3 109.3,94.1 80.8,95.2 82.4,110.8 58.7,127.4 126.5,78.8 90.1,90.9 89.7,94.9 88.4,107.8 80.8,102.6 105.7,89.2 71,97 111.5,74.1 102.4,95.3 108.5,109.4 97.3,86.2 89.2,107 98.7,93.6 82.8,120.6 79.3,102.9 117.3,87.3 89.1,107.3" fill="none" stroke="none" marker-start="url(#d)" marker-mid="url(#d)" marker-end="url(#d)"/>
<polyline points="36.2,132.5 40.8,130.2 47,128.3 53.3,127 59.5,124.6 65.7,121.5 71.9,118.3 78.1,114.6 84.4,110.3 87.5,108.3 96.4,103 105.2,95.9 114.1,87.9 123,79 127.7,72.1 131.8,64.6 136.8,58 141,55.5 145.1,53.9 149.2,48.9 152.5,43.9 154.2,36.5 155,32.3 157.5,31.2 159.2,30.7 160,23.2 160.8,18.3 161.1,11.6 165.6,5" fill="none" stroke="#555" stroke-width="1.1"/>
</g>
<rect x="90.6" y="118.5" width="65.5" height="10.5" fill="#fff" fill-opacity="0.72"/>
<text x="154.6" y="126.4" font-size="7.4" fill="#1c1c1c" text-anchor="end" stroke="#1c1c1c" stroke-width="0.15">Correlation: 0.5254</text>
</g>
<g transform="translate(365.6,3.4)">
<rect x="0" y="0" width="170.2" height="158.9" fill="#e4e4e4" stroke="#a4a4a4" stroke-width="1"/>
<rect x="1" y="1" width="168.2" height="156.9" fill="none" stroke="#f4f4f4" stroke-width="0.8"/>
<rect x="36.5" y="5" width="129.6" height="127.8" fill="#fff" stroke="#a9a9a9" stroke-width="1.0"/>
<line x1="33.5" y1="16.8" x2="36.5" y2="16.8" stroke="#aaa" stroke-width="0.7"/>
<text transform="translate(33.6,19.7) rotate(-55)" font-size="7.6" text-anchor="end" fill="#1c1c1c" stroke="#1c1c1c" stroke-width="0.3">0.240</text>
<line x1="33.5" y1="51.8" x2="36.5" y2="51.8" stroke="#aaa" stroke-width="0.7"/>
<text transform="translate(33.6,54.7) rotate(-55)" font-size="7.6" text-anchor="end" fill="#1c1c1c" stroke="#1c1c1c" stroke-width="0.3">0.180</text>
<line x1="33.5" y1="87.8" x2="36.5" y2="87.8" stroke="#aaa" stroke-width="0.7"/>
<text transform="translate(33.6,90.7) rotate(-55)" font-size="7.6" text-anchor="end" fill="#1c1c1c" stroke="#1c1c1c" stroke-width="0.3">0.120</text>
<line x1="33.5" y1="122.8" x2="36.5" y2="122.8" stroke="#aaa" stroke-width="0.7"/>
<text transform="translate(33.6,125.7) rotate(-55)" font-size="7.6" text-anchor="end" fill="#1c1c1c" stroke="#1c1c1c" stroke-width="0.3">0.060</text>
<text transform="translate(10,68.4) rotate(-90)" font-size="7.65" text-anchor="middle" fill="#1c1c1c" stroke="#1c1c1c" stroke-width="0.15">Shields parameter</text>
<line x1="57.7" y1="132.8" x2="57.7" y2="135.3" stroke="#aaa" stroke-width="0.7"/>
<text x="57.7" y="143.5" font-size="7.5" text-anchor="middle" fill="#1c1c1c" stroke="#1c1c1c" stroke-width="0.15">8.00</text>
<line x1="97.9" y1="132.8" x2="97.9" y2="135.3" stroke="#aaa" stroke-width="0.7"/>
<text x="97.9" y="143.5" font-size="7.5" text-anchor="middle" fill="#1c1c1c" stroke="#1c1c1c" stroke-width="0.15">10.00</text>
<line x1="137.7" y1="132.8" x2="137.7" y2="135.3" stroke="#aaa" stroke-width="0.7"/>
<text x="137.7" y="143.5" font-size="7.5" text-anchor="middle" fill="#1c1c1c" stroke="#1c1c1c" stroke-width="0.15">12.00</text>
<text x="101.3" y="152.8" font-size="7.65" text-anchor="middle" fill="#1c1c1c" stroke="#1c1c1c" stroke-width="0.15">gravitational acceleration</text>
<clipPath id="c2"><rect x="36.5" y="5" width="129.6" height="127.8"/></clipPath>
<g clip-path="url(#c2)">
<polyline points="99.8,109.7 84,116 120.7,101.9 119.2,90.6 86,75.7 71.1,96.2 112,106.4 98.1,109.5 97.2,84.2 110.4,63.1 81.3,93.3 135.8,115 83.4,111.7 120.6,64.1 107.5,94.6 81.5,120.2 106.5,99.4 106.7,114.1 113.5,107.4 75.7,105.5 117.8,108.6 91.9,88.1 80.2,99 89,106.9 97.6,90.8 90.3,82.5 46.5,119.3 99.6,102.1 84.4,112 127,100.8 78.3,115.6 53.2,97.7 93.5,98.6 107.1,102.8 60.7,112.8 84.5,104.2 75.9,113.3 77,116.3 113,94.2 100.4,113.5 111.1,74.9 80.9,84.8 94.7,122.7 112.6,93.3 106.9,113.4 87.9,97.5 69.3,97.3 93.2,122.6 102.3,101.7 90.3,102.1 95.5,79.6 99.7,114.4 117.8,84.4 118.8,113.4 96.3,103.2 83.6,110.2 144,68 75.4,87.8 129.5,38.8 135.7,86.3 88.7,82.1 127.2,82.2 72.5,107.1 81.2,99.1 54.8,70.5 100.5,104.2 84.3,94.8 107.9,98.3 140.4,87 58.1,103.7 132.5,100.5 81.4,93.9 82.3,96.3 117.4,110.5 90.2,81 98.9,115.7 93.9,114.6 95.4,115.5 56.1,79.5 93,103.6 83.2,111.9 104.8,113.8 94.4,90.6 65.5,112.9 80.7,115.4 86.8,86.9 87.3,114.5 106.6,103.1 96.6,98.1 128.3,104.9 65.8,98.9 88.4,70.8 85.9,105.9 98,115.2 76.8,121.2 76.8,101.3 82.9,103.5 119.7,93.5 119.6,105.1 144.9,105.3 99.4,108.7 112.2,105.9 113.5,95.3 114.5,103.9 92.3,96.3 71.2,55.6 103.7,89.5 71.5,118.6 96.2,60.4 82.7,92 90.3,111.5 108.2,80.8 98.6,97.7 98.8,107.2 110.7,107.5 113.3,112.1 97.1,97.2 84.8,77.2 85.8,103.1 109.2,90.6 74.9,56.4 102.3,114.7 88,93.6 74.5,102.8 100.3,112.9 88,112.5 87.7,98.3 105.3,90.4 83.6,106.1 91.8,97.1 90.8,84.7 86.2,92.9 66.1,81.6 85.5,89.8 89.2,89.3 99.8,57.8 92.5,86.7 80.5,95.8 81.5,84.9 80.8,111.2 81.2,103.3 79.4,83.2 71.8,86.5 101.9,65.4 110,97.8 118.8,117.5 80.7,54.3 67.6,76.7 122.5,112.9 109,69.9 109.2,97.5 86.6,121 102.6,104.5 121.2,105.8 100.6,64.3 102.8,109.6 76.3,102 83.4,102.4 88.5,103.9 90,111.2 78.7,94.3 90.2,77 120.6,86.7 96.2,111.3 77.3,114 112.7,96 107.4,108.5 100.5,107.5 86.3,119.7 78.6,54.2 89.7,80.6 76,111.9 118.4,80.8 114.4,70.7 91.7,126 103.5,106.3 107.5,104 106.9,86.2 78.7,100 85.6,101.7 114.5,99 123.9,57 122.3,47.7 135,106 66.2,111.3 81.2,31.4 111.8,112 71.7,106.7 109.9,97.4 85.3,89.4 111.2,78.1 130.3,91.2 107.1,110.6 113.3,89 108.8,93.7 87.4,56.3 115.5,98.2 67.2,116.1 114.1,112.8 100,68 80.5,106.2 108.6,123.6 49.6,106.8 104.9,98 70.6,74.4 70.6,112.4 86.3,85.8 73.6,83.2 77.8,108.4 83.9,101 84.1,59.4 111.9,60.8 115.9,81.9 97,92.2 117.2,75.6 97.7,100.3 110.9,99.5 73,110.5 96,97.9 96.6,99.3 95.1,30.6 115.6,101.1 109.9,72.5 94.8,71.2 64.4,101 71.9,74.9 92.2,124.3 91.7,96.4 96.5,81.9 94.2,126.1 118.5,114.1 114.7,77.5 105.7,102.1 94.9,113.4 81.2,103.8 75.7,106.2 103.3,84.7 105.8,90 109.1,102.4 108,107.9 93.5,98.9 88.5,71.1 109.2,91.9 66.7,86.4 79.5,100.4 91.8,115.6 104.3,108.5 126.5,86.1 100.2,96.3 127.2,111 83.7,119.1 93.1,96.1 106.9,103.3 88.5,103.5 92.1,103.2 98.4,93.1 127.7,92.9 100.2,79.6 73.4,80.3 95.3,71 78.2,83 47.7,103.3 118,98.9 131.3,89.2 96.1,102.9 110.3,88.2 104.6,75.2 95.2,109.7 88.5,120.6 94.9,74.3 94.9,97.7 97.2,85 81.9,116.1 116.3,60.4 50.2,84.4 120.1,100 111.7,103.5 72.1,96.1 83.1,100.7 70.1,102.4 106.7,113.6 94.6,72.7 129.8,98.6 103.9,96.8 83.9,96.4 90.5,125.8 92.4,88.6 110.3,103.2 91.9,102.6 80.1,96.8 81,111.9 128.2,82.2 73.6,108.3 89.9,111 89.4,110.5 96.1,95.3 81.5,84.2 61.6,107 75.8,118 49.3,77.3 73.2,113 114.7,74.3 101.3,98.9 153.9,108.4 50.7,107.6 101.6,89.8 121.2,81.2 65.5,101.2 87.8,79.9 120.6,50 56.5,101.3 134,114 83.9,112.9 106.2,116.7 89.6,107.6 103.7,108.7 111.5,116 125.9,88.5 92.8,127.7 92.3,115.9 103.6,52.2 96.2,77.9 112.9,88.7 79.1,89.9 54.4,59.4 99.8,88.4 84.5,96.7 99,114.9 124.5,99.2 111.7,108.8 94.1,108.5 84.9,108.6 88.1,98.7 102.2,103.2 93.5,81.6 115.4,116 79.6,100.7 86.8,56.8 113.9,97.4 53.2,74.2 108.6,75.6 108.8,71.3 114.7,84.4 95.3,116.6 100.7,102.2 85.6,103.9 73.2,118.4 131.3,105.1 94.1,115.1 90.9,119.5 70.8,94.4 90,98.7 103.7,108.2 50.7,111.6 71.6,106.2 113.4,104.1 104.6,104.3 96.9,98.9 89.8,104.7 73.7,91.2 120.2,88.7 92.8,91.8 69,107.9 85.6,107.3 82.4,90.3 111.9,101.2 104.6,98.7 108.5,126.8 123.4,128.4 77.5,92.2 81.1,92.3 116.3,69.4 101.5,84.7 102.4,94.2 103.1,97.7 87.6,117.1 94.1,81.3 108.7,107.1 94.1,89.1 103,94.6 115.3,93.3 119.4,81.1 74.7,105.5 115,104 91.9,110.4 112.2,103.9 88.1,62.3 95.1,103.7 114.9,74.5 87.3,82.5 86.9,84.6 112.8,83 50.8,112.4 104.9,91.5 85.4,64.4 85.2,108.3 93.6,98.8 91.5,108.2 56.9,92.5 83.6,113.2 83.7,63.8 105.7,103.9 80.1,118.3 111.3,58.8 71.4,79.4 149.8,88.7 92,88.5 87.4,103.6 117.7,101.6 61.8,84.7 112.7,80.6 118.7,80.2 39.5,94.4 85.8,105.2 81.2,101.1 80.4,76.3 115,68.3 68.5,103.3 105.7,105.3 95.6,73 123.9,84.7 100.9,85.2 67.8,115.8 83.2,103.8 95.5,105.9 109.8,94.5 76.1,119.7 74.4,72.4 112.6,92.8 90.7,90.3 60.3,114.4 60.9,98.4 97.9,70.9 103.8,118.6 90.3,92.7 87.2,85.2 66,108.3 100.2,82.8 116.3,103.2 108.9,73.4 87.9,88.6 114.3,94.2 73.5,52.4 71,82.4 99.1,71.5 74.1,114.5 110,107.7 99.6,82.3 83.4,80.8 58.9,98.9 120.1,83.5 78,112.9 85.1,94.4 117.1,114 78.3,92.1 98.1,105.4 86.9,107.6 48.1,97.1 96.5,58.1 96.2,112.4 106,107.1 80.1,77.2 103.6,104.5 112.7,59.4 77.3,94.2 104.4,96.5 80.4,91.8 97.3,60.2 119.7,86.1 40.2,88.8 75.2,93.7 98.4,118.5 122,110.8 105,67.1 98.6,82.6 113.2,89 89.7,86.4 102.3,106.3 109.8,92.1 66.1,111 114.4,91.2 80.1,108.6 98.4,101.4 114.9,90 114.4,103.1 118.1,86.2 77.5,89.9 113.9,91.7 65.6,71.1 76.5,117.6 93.2,118.8 150.1,86.8 72.2,80.1 75.9,52.3 108,84 82.5,82.4 105.1,110.8 114.9,84.1 99.2,85.7 91,112.9 95.5,110.9 67.9,99.8 100.5,93 82.7,130.1 89.5,96.8 77.9,94.1 91.5,100.8 103.2,93.4 135.4,89.9 71.1,112.4 107,90.7 76.5,102 87,111.5 97.8,94.4 102.7,67 118.5,117.4 76.4,119.4 43.6,119.4 86.9,53.4 75.5,102 106.8,99 128.5,109.5 101,111.5 91.7,122.9 126.5,95.1 99.1,93.6 93,122.5 123.9,112.7 90.3,109 61.2,98.4 61.7,93.8 102.4,75.9 117.4,70.2 84.7,77.2 67.9,70.7 113.1,114.2 67.5,106.4 87.6,75.5 108.9,93 92.7,97.7 100.1,122.5 122.7,121.4 73.3,84.5 88.6,92.1 107.1,102.7 90.1,104.4 77.5,120.1 114.6,91.5 72.7,78 112.4,62.9 110.7,97.2 98.7,101.3 86.9,113.4 86.8,73.6 93.6,61.2 100.6,107.2 130.5,93 109.4,96.5 120.1,106.7 98.6,126.9 102.9,103.7 62.6,87 72.8,117.3 65.4,110.2 98.7,131.8 130.4,72.1 116.7,89.1 114.9,97.2 105.4,102.3 98.6,107.5 90.3,99.3 83.4,102.9 77.4,101.9 88.7,98.6 136.8,95.9 152.6,65.4 36.4,117.3 83.1,93.5 68.2,107.4 107.4,113.9 106.6,125.8 101.5,87 73.9,112.1 117,109.2 106.4,89.9 96.6,113.3 95.6,97.7 79,99.4 59.4,83.3 93.6,78.7 92.4,110.7 71,80.8 99.1,99.7 88.5,96.1 79.7,101.5 112.3,83.8 124.3,114.8 91.2,93.7 96.1,75 77.5,102.6 71.4,52.2 114.5,109 94,94.5 93.6,105.5 78.2,107.4 100.6,113.7 123.1,106.3 74,99 117.2,109.9 103.3,81.5 94.4,66.4 103.2,118.3 91.1,82.6 79.3,95 79.2,94 102.8,38.1 61.5,74.3 78.7,92.4 127.3,95.1 106.3,124.2 85.3,83.7 79.2,109 82,95 96.1,96.4 104.7,79.6 96.5,51.8 127.6,79.1 78.5,72.4 85.2,101.7 107.6,89.9 129.7,83.7 85.3,117.2 109.5,51.4 95,108.6 139.1,115.5 129.5,63.2 92.3,49 83.2,108.4 76,107.2 165.4,5.3 74.1,96.1 101.7,122.6 88.3,107.2 144.9,52.6 98.4,86 106.9,84.1 101.3,73.6 70.6,85.6 98.5,103.2 79.6,118.8 124.4,90.1 123.8,113.6 66.1,98.9 112.7,59.7 131.7,88.3 63.3,97 88.2,96.9 86.9,84.5 85.6,80.5 89.5,115.9 69.9,94.9 63,60.9 132.2,84 49,109.3 118.1,108.1 128.4,123.3 87.9,109.6 90.9,63.9 140.5,99.1 100.2,110.4 82.2,106.7 102,99.8 123.7,99.7 121.2,103.5 103.4,109.3 61.4,86.4 130.6,65.7 112,106.6 94.2,106.2 100.8,74.4 88.1,117.5 82.2,106.9 94.3,103.9 68.9,95.2 82.4,102.3 97.2,110.8 91.9,92.6 78.9,114.4 68.8,120.3 85,123 86.4,84.2 52.5,120.2 115.7,90.1 108.4,85.7 111.1,82.9 93.3,100.8 109.1,106.3 91.8,96.6 103.1,107 85,115.5 107.3,72.8 110.3,110.9 116.1,58.7 135,88.8 91.7,105 132.9,90.3 123.4,73.4 94.7,116.6 84.3,111.3 95.1,112.8 107.3,95.2 126,90.9 95.1,97.5 111.3,108.8 97.4,106 92.5,74.5 98.3,76.1 104.4,95.8 113.2,115.8 118,86.6 120.4,93 103,93.7 113.3,60.5 91.5,82.7 74.3,111.9 71.2,111.8 90.5,69.8 85.1,94.5 137.8,81.2 115.8,99.7 97.7,111.6 99,92.4 80.4,63.6 102.4,91 91.2,113 67.9,101.9 88.2,104.6 121.8,93.8 85.6,76.5 123.3,51 124.8,92.6 97.3,103.3 78.1,95.1 124.9,96.1 71.1,103.2 96.2,96 88.1,96.4 78.6,113.2 105.4,86.3 58.2,102.2 102.4,110.8 116.2,87.4 125.1,104.1 102.9,57.5 92.8,87.7 99.7,95.1 121.6,107.9 86.4,103 124.3,80.2 89.3,107.1 106,82.2 70.6,122.9 107.9,93.2 70.4,81.1 119,90.7 94,96.8 77.4,76.8 95.3,109.4 73.6,111.1 61.8,94.9 57.4,72.3 66.9,89 82.5,99.9 112.9,91.5 86.9,88.8 95.4,114.2 81.4,128.6 102.3,111.6 132.3,117 108.2,105.7 95.8,113.7 84,109.6 111.8,88.9 120.9,95.1 106.2,97.1 69.7,60.2 106.9,103.9 115.3,102.7 47.6,70.5 91.2,112.5 59.8,118.3 86.2,69.3 116,90.5 117.9,85.3 67.1,84.5 87.9,78.7 68.2,103.8 93.3,97.6 58.2,112.3 98.6,93.8 92.9,92.1 72,103.4 101.6,83.6 159.4,11.5 106.3,112.7 134.5,80 93.4,77.4 116.4,74.5 105.5,108.1 109.5,71.2 48.9,83.5 100.9,97.9 75,101.4 97.6,91.4 60.5,77.1 92.3,78.2 88.8,38.7 73.6,101.3 73.5,83.7 105.1,102.4 98.3,80.2 97.4,93.1 124.5,104.8 48.6,114.2 71.6,107.2 140.2,91 165.4,63.3 117.5,80.3 97.1,112.7 107.3,103.2 84.8,94.9 100.6,97.8 48,94.8 96.7,81.1 111.8,92.6 117,107.1 102.9,121.3 110.1,102.2 91.7,119 97.7,99.7 95.8,91.7 72.6,115.7 67.4,99.9 69.6,103.1 98.7,55.5 76.4,90.1 102.6,121.8 77.9,90.6 108.4,91.2 91.5,101.7 113.3,104.4 105.3,88.1 84.1,86.9 116.5,91.3 88,112.8 77,102.9 71.7,119.1 110.4,118.5 86.8,107.5 124.5,113.8 113.2,105.6 108.7,40.1 84.7,90.9 89,112 77.9,125 113.3,111.5 87.2,118.3 62.4,125.4 93.6,87.1 117.4,107.1 83,92.5 149.4,13.5 78.8,95.5 85.4,98.1 114.8,94.2 86.3,104.1 102.7,111.6 54.7,103.3 92.6,78.3 131.9,104.1 110,117.8 87.1,116.5 118.9,114 87.8,99.7 125.1,91.6 119.5,91.6 104.3,76.9 85.8,102.8 85.6,84.3 88.7,94 133,86.7 91.2,121.9 97.7,74.6 106.2,118.9 115.9,114.4 125.4,84.6 58.8,104.7 115.3,60.6 77.6,95.9 76.9,112.9 70.3,95.8 79,104.6 77.2,65.9 103.3,63.8 88.6,84.7 102,104.5 71.8,96.8 66.3,78 85.5,109.9 88.2,109.8 110.7,82.3 97.8,84.6 89.2,101.8 143.4,102.4 110.3,122.4 90.3,74.8 97.2,100 111.1,117.2 97.6,113.8 95.5,111 101.9,61.4 104.2,85.5 119.3,116.2 126.7,57.1 140.8,70.9 74.5,113 117.9,128.1 148.7,79.6 78.1,107.1 85.9,100.2 55.8,106 118.6,72.7 61.7,67.3 101.2,82.9 130.3,100.4 58.1,93.5 108.9,86.7 96.1,118.6 103.4,73.1 120.1,103 108.2,93.5 58.7,95.6 88.7,80.8 131.1,77.1 58.4,46 99.2,103.4 87.9,110.9 120.5,95.6 94.9,107.6 77.1,81.5 116.4,109.6 54.8,95.5 81.6,79.7 85.5,78 102.1,94.1 117.3,68.4 102.2,71.5 126.1,119.6 115,91.3 102.3,94.5 88.4,102.3 106.7,107.1 147,96.7 87.4,90.6 96,92.7 97.6,69.3 94.3,78.1 72.3,106.4 68.7,108.7 91.3,81.3 107,107.9 142.5,94.5 90.8,88.8 83.7,77.2 55.6,88 104.6,67.1 148.5,104.5 84.1,84.9 73.4,107.3 135.4,94.1 103.5,95.2 94.6,110.8 92.5,127.4 86.1,78.8 121.7,90.9 61.4,94.9 75.2,107.8 57.2,102.6 94.5,89.2 76,97 107.1,74.1 89.3,95.3 97.4,109.4 86.5,86.2 70.3,107 120.9,93.6 63.5,120.6 65.9,102.9 86,87.3 109.1,107.3" fill="none" stroke="none" marker-start="url(#d)" marker-mid="url(#d)" marker-end="url(#d)"/>
<polyline points="35.9,132.5 36.7,131.6 42.1,129.3 49.8,127.3 57.5,125.4 65.2,122.4 68.2,120.1 72.9,117.3 80.6,112.4 88.2,107 94.4,102.4 100.1,96.6 109.4,85.9 116.1,76.6 121.4,65.9 126.7,59.3 132.1,53.9 136.1,48.6 137.4,43.3 140.1,39.3 142.2,32.6 143.5,24.6 144.1,17.9 144.2,10.6 165.9,5" fill="none" stroke="#555" stroke-width="1.1"/>
</g>
<rect x="90.6" y="118.5" width="65.5" height="10.5" fill="#fff" fill-opacity="0.72"/>
<text x="154.6" y="126.4" font-size="7.4" fill="#1c1c1c" text-anchor="end" stroke="#1c1c1c" stroke-width="0.15">Correlation: 0.0147</text>
</g>
<g transform="translate(16.3,166.5)">
<rect x="0" y="0" width="170.2" height="158.9" fill="#e4e4e4" stroke="#a4a4a4" stroke-width="1"/>
<rect x="1" y="1" width="168.2" height="156.9" fill="none" stroke="#f4f4f4" stroke-width="0.8"/>
<rect x="36.5" y="5" width="129.6" height="127.8" fill="#fff" stroke="#a9a9a9" stroke-width="1.0"/>
<line x1="33.5" y1="16.8" x2="36.5" y2="16.8" stroke="#aaa" stroke-width="0.7"/>
<text transform="translate(33.6,19.7) rotate(-55)" font-size="7.6" text-anchor="end" fill="#1c1c1c" stroke="#1c1c1c" stroke-width="0.3">0.240</text>
<line x1="33.5" y1="51.8" x2="36.5" y2="51.8" stroke="#aaa" stroke-width="0.7"/>
<text transform="translate(33.6,54.7) rotate(-55)" font-size="7.6" text-anchor="end" fill="#1c1c1c" stroke="#1c1c1c" stroke-width="0.3">0.180</text>
<line x1="33.5" y1="87.8" x2="36.5" y2="87.8" stroke="#aaa" stroke-width="0.7"/>
<text transform="translate(33.6,90.7) rotate(-55)" font-size="7.6" text-anchor="end" fill="#1c1c1c" stroke="#1c1c1c" stroke-width="0.3">0.120</text>
<line x1="33.5" y1="122.8" x2="36.5" y2="122.8" stroke="#aaa" stroke-width="0.7"/>
<text transform="translate(33.6,125.7) rotate(-55)" font-size="7.6" text-anchor="end" fill="#1c1c1c" stroke="#1c1c1c" stroke-width="0.3">0.060</text>
<text transform="translate(10,68.4) rotate(-90)" font-size="7.65" text-anchor="middle" fill="#1c1c1c" stroke="#1c1c1c" stroke-width="0.15">Shields parameter</text>
<line x1="76.3" y1="132.8" x2="76.3" y2="135.3" stroke="#aaa" stroke-width="0.7"/>
<text x="76.3" y="143.5" font-size="7.5" text-anchor="middle" fill="#1c1c1c" stroke="#1c1c1c" stroke-width="0.15">0.03</text>
<line x1="137.2" y1="132.8" x2="137.2" y2="135.3" stroke="#aaa" stroke-width="0.7"/>
<text x="137.2" y="143.5" font-size="7.5" text-anchor="middle" fill="#1c1c1c" stroke="#1c1c1c" stroke-width="0.15">0.04</text>
<text x="101.3" y="152.8" font-size="7.65" text-anchor="middle" fill="#1c1c1c" stroke="#1c1c1c" stroke-width="0.15">sediment diameter</text>
<clipPath id="c3"><rect x="36.5" y="5" width="129.6" height="127.8"/></clipPath>
<g clip-path="url(#c3)">
<polyline points="65.2,109.7 112.2,116 81.9,101.9 89.5,90.6 69.2,75.7 84,96.2 75.1,106.4 118.8,109.5 62.6,84.2 66.6,63.1 44.5,93.3 110.2,115 84.5,111.7 89.2,64.1 77.1,94.6 95.9,120.2 84.2,99.4 108.8,114.1 95.9,107.4 59.1,105.5 69,108.6 69,88.1 100.2,99 98.1,106.9 80.4,90.8 57.7,82.5 76.1,119.3 59.6,102.1 107.4,112 86.9,100.8 118.5,115.6 40.8,97.7 78,98.6 97.8,102.8 117.8,112.8 83.4,104.2 120,113.3 61.8,116.3 80.2,94.2 110.1,113.5 54.8,74.9 60.8,84.8 134.9,122.7 72.8,93.3 109.7,113.4 72.2,97.5 75.1,97.3 76.7,122.6 81.1,101.7 107.4,102.1 78.5,79.6 84.9,114.4 131.6,84.4 83.3,113.4 98.7,103.2 86.5,110.2 97.1,68 86.1,87.8 91.6,38.8 105.3,86.3 83.4,82.1 71.8,82.2 82.5,107.1 71.9,99.1 112.7,70.5 95.3,104.2 63.6,94.8 80.1,98.3 67.7,87 85.8,103.7 88.8,100.5 75.2,93.9 83,96.3 74.4,110.5 43.3,81 78.2,115.7 100.9,114.6 77.3,115.5 62.1,79.5 72.3,103.6 74.7,111.9 82.2,113.8 95.4,90.6 121.9,112.9 93.9,115.4 76,86.9 64.1,114.5 142.6,103.1 87.9,98.1 88.2,104.9 59.2,98.9 55.5,70.8 72,105.9 82.6,115.2 103.8,121.2 64,101.3 90.4,103.5 123.5,93.5 107.2,105.1 68.4,105.3 94.8,108.7 90.6,105.9 70.3,95.3 112.1,103.9 65.4,96.3 90.8,55.6 97.8,89.5 79.9,118.6 65,60.4 59.5,92 75.6,111.5 56.7,80.8 123.7,97.7 61.1,107.2 118.5,107.5 86.8,112.1 88.6,97.2 95.2,77.2 97.7,103.1 110.4,90.6 100,56.4 99,114.7 106.3,93.6 103.1,102.8 90.4,112.9 96,112.5 88.9,98.3 81,90.4 118.6,106.1 58.6,97.1 79.3,84.7 68.9,92.9 114.4,81.6 72.3,89.8 89.6,89.3 54.5,57.8 85.6,86.7 101.5,95.8 78.5,84.9 98.4,111.2 91.2,103.3 87.4,83.2 81,86.5 84.5,65.4 136.7,97.8 94.9,117.5 87.9,54.3 94.9,76.7 104.6,112.9 99,69.9 90.1,97.5 113.6,121 75,104.5 82.5,105.8 84.3,64.3 88.9,109.6 113.8,102 93.8,102.4 102.2,103.9 112.5,111.2 103.9,94.3 63.5,77 74,86.7 77.1,111.3 76.3,114 66.9,96 89.5,108.5 106.3,107.5 79.2,119.7 44.5,54.2 58.7,80.6 97.1,111.9 64.4,80.8 83.9,70.7 78.7,126 122.3,106.3 85.3,104 97.9,86.2 88.4,100 87.1,101.7 84.1,99 44.1,57 46.6,47.7 107.1,106 82.9,111.3 68.7,31.4 124.2,112 104.2,106.7 75.9,97.4 113.6,89.4 63.8,78.1 55,91.2 84.7,110.6 113.6,89 78.4,93.7 63.9,56.3 77.1,98.2 65.3,116.1 84,112.8 106.8,68 93.8,106.2 114.5,123.6 90.2,106.8 58.4,98 68.2,74.4 97.5,112.4 96.4,85.8 90.3,83.2 80.6,108.4 65.1,101 93.8,59.4 80.5,60.8 89.9,81.9 60.3,92.2 86.6,75.6 87.4,100.3 104,99.5 149.4,110.5 100.3,97.9 122,99.3 96.7,30.6 76.6,101.1 112.4,72.5 85.4,71.2 135.4,101 85.2,74.9 104.2,124.3 66.3,96.4 83.9,81.9 107.3,126.1 109.9,114.1 119,77.5 37.4,102.1 64.8,113.4 82.4,103.8 92.1,106.2 96.8,84.7 89.3,90 63.5,102.4 98.1,107.9 78.6,98.9 61.9,71.1 56.5,91.9 101.5,86.4 68,100.4 102.6,115.6 82.9,108.5 74.1,86.1 68.4,96.3 37.4,111 86.5,119.1 103.8,96.1 80,103.3 72.3,103.5 101.9,103.2 75.1,93.1 56.2,92.9 89.8,79.6 57.5,80.3 84.3,71 72.1,83 97.6,103.3 85.8,98.9 83.7,89.2 69.8,102.9 89.2,88.2 124.8,75.2 103.2,109.7 114.8,120.6 55.3,74.3 77.1,97.7 62.9,85 135.2,116.1 71.3,60.4 67.3,84.4 109.1,100 95.4,103.5 61.4,96.1 97.2,100.7 68.6,102.4 102.1,113.6 75.9,72.7 137.1,98.6 72,96.8 87.6,96.4 97.6,125.8 80.3,88.6 106.1,103.2 83.4,102.6 92,96.8 65.7,111.9 89.5,82.2 125.7,108.3 85.9,111 111.4,110.5 83.5,95.3 68.6,84.2 71.4,107 121.4,118 97.7,77.3 65.1,113 49.2,74.3 79.3,98.9 71.2,108.4 78,107.6 78.8,89.8 73.2,81.2 76.8,101.2 73.9,79.9 51.1,50 72.5,101.3 104.5,114 85.1,112.9 73.5,116.7 81.7,107.6 83.3,108.7 82.5,116 66.6,88.5 139.8,127.7 105.7,115.9 80.7,52.2 66.7,77.9 83.3,88.7 67.2,89.9 66.4,59.4 66.4,88.4 65.9,96.7 123.1,114.9 77,99.2 83.5,108.8 77.9,108.5 68.5,108.6 81.3,98.7 87.2,103.2 92.9,81.6 127.1,116 84.9,100.7 49.4,56.8 67.4,97.4 77.2,74.2 76.7,75.6 85.9,71.3 54.5,84.4 72,116.6 85.1,102.2 101.2,103.9 59,118.4 83.5,105.1 105.7,115.1 62.5,119.5 75,94.4 96.7,98.7 55.8,108.2 102.3,111.6 123.8,106.2 103.4,104.1 82.5,104.3 87.9,98.9 48.4,104.7 87.4,91.2 87.3,88.7 67.9,91.8 93.1,107.9 87.7,107.3 78.4,90.3 109.9,101.2 63.2,98.7 93.2,126.8 84.6,128.4 76.9,92.2 79.3,92.3 62.9,69.4 60.6,84.7 66.6,94.2 112.1,97.7 91.7,117.1 95.6,81.3 80.3,107.1 70.9,89.1 67.2,94.6 78.6,93.3 64.2,81.1 97.3,105.5 135.5,104 66.5,110.4 65.1,103.9 79.6,62.3 84.6,103.7 134.8,74.5 120.7,82.5 68.8,84.6 80.1,83 108,112.4 127.1,91.5 54.3,64.4 101.8,108.3 99.5,98.8 71.7,108.2 59.6,92.5 73.2,113.2 39.1,63.8 116.6,103.9 83.1,118.3 77.8,58.8 91.9,79.4 89.1,88.7 54.9,88.5 102.5,103.6 78.6,101.6 76.7,84.7 68.8,80.6 96.2,80.2 143.9,94.4 64.2,105.2 88.7,101.1 54.7,76.3 78.9,68.3 73.3,103.3 81.7,105.3 77.9,73 90.9,84.7 53.8,85.2 107.9,115.8 64.5,103.8 93.8,105.9 108.5,94.5 65.9,119.7 63,72.4 40.6,92.8 97.2,90.3 71.7,114.4 133.1,98.4 91.3,70.9 49.9,118.6 90.2,92.7 75.7,85.2 82.8,108.3 108.4,82.8 140,103.2 66.9,73.4 120,88.6 66.3,94.2 76.1,52.4 68.6,82.4 49.4,71.5 80.2,114.5 62.7,107.7 111.6,82.3 86.7,80.8 99.9,98.9 56.5,83.5 77.1,112.9 52.8,94.4 73.6,114 53.4,92.1 111.9,105.4 75.1,107.6 93.9,97.1 59.2,58.1 109.5,112.4 98.1,107.1 73.9,77.2 55.6,104.5 86.6,59.4 88.7,94.2 64.8,96.5 45.7,91.8 67.2,60.2 124.4,86.1 85.6,88.8 77.7,93.7 77.7,118.5 130,110.8 52.6,67.1 49.5,82.6 56.1,89 75.2,86.4 84.3,106.3 54.6,92.1 107.9,111 105.7,91.2 77.5,108.6 99.3,101.4 87.7,90 89.9,103.1 86.6,86.2 95.3,89.9 62.6,91.7 114.2,71.1 78.9,117.6 79.9,118.8 83.2,86.8 59.1,80.1 80.4,52.3 69.6,84 51.1,82.4 114.7,110.8 65.7,84.1 83.2,85.7 126.9,112.9 135.2,110.9 117.4,99.8 67.1,93 98.1,130.1 52.9,96.8 95.7,94.1 95.6,100.8 78.3,93.4 59.5,89.9 71.4,112.4 99.9,90.7 110.8,102 82,111.5 82.7,94.4 68.2,67 67.2,117.4 101.1,119.4 86.6,119.4 68.3,53.4 58,102 70.3,99 80.9,109.5 73.2,111.5 100.5,122.9 94.4,95.1 108.1,93.6 73.8,122.5 107.3,112.7 77.9,109 80.9,98.4 80.4,93.8 62.8,75.9 59.3,70.2 87,77.2 88.4,70.7 82.8,114.2 81.8,106.4 100.5,75.5 74,93 61,97.7 88.5,122.5 86.5,121.4 54.7,84.5 66.8,92.1 92.1,102.7 87.1,104.4 73.9,120.1 78.7,91.5 80.8,78 57,62.9 105.6,97.2 87.7,101.3 72.3,113.4 68.7,73.6 72.9,61.2 100.4,107.2 103,93 91,96.5 80.1,106.7 116.6,126.9 106.3,103.7 82.4,87 145,117.3 79,110.2 95.5,131.8 86.6,72.1 67.7,89.1 113.1,97.2 88,102.3 115.6,107.5 118.2,99.3 50.3,102.9 52.6,101.9 82.8,98.6 96.7,95.9 86.9,65.4 90.5,117.3 101.5,93.5 79.6,107.4 102.6,113.9 125.6,125.8 77.8,87 98.7,112.1 79.7,109.2 73.5,89.9 48.5,113.3 98.6,97.7 64.3,99.4 113.2,83.3 52.8,78.7 82.1,110.7 58.8,80.8 75.3,99.7 89,96.1 85.8,101.5 96.8,83.8 136.8,114.8 94.7,93.7 134.3,75 94.8,102.6 84.5,52.2 99.1,109 80.6,94.5 95.1,105.5 74.2,107.4 119.1,113.7 73.6,106.3 107.3,99 43.4,109.9 74.6,81.5 94.6,66.4 116.1,118.3 116,82.6 63.6,95 116.6,94 95.8,38.1 48.4,74.3 82.8,92.4 76.1,95.1 115.7,124.2 98.3,83.7 80.4,109 120.8,95 56.7,96.4 79.3,79.6 46.5,51.8 54.5,79.1 86.4,72.4 124,101.7 74.8,89.9 65.1,83.7 89.5,117.2 70.3,51.4 86.4,108.6 145.8,115.5 106.3,63.2 83.7,49 65.6,108.4 85.9,107.2 67.7,5.3 88.8,96.1 85.8,122.6 49.8,107.2 84.6,52.6 61.5,86 87.1,84.1 75.5,73.6 84.9,85.6 124.8,103.2 110.7,118.8 68.6,90.1 67.7,113.6 92.3,98.9 99.9,59.7 68.7,88.3 73.1,97 87.4,96.9 116.8,84.5 66.1,80.5 70.7,115.9 77.4,94.9 71.6,60.9 80.7,84 102.1,109.3 104.1,108.1 87.4,123.3 62.1,109.6 69.1,63.9 97,99.1 97.2,110.4 92.5,106.7 90.6,99.8 43.9,99.7 107.7,103.5 85.4,109.3 53.5,86.4 82.8,65.7 74.1,106.6 92.6,106.2 101.6,74.4 90.8,117.5 82.5,106.9 105.5,103.9 100.1,95.2 69.6,102.3 78.6,110.8 75.5,92.6 81.1,114.4 46.5,120.3 84.2,123 85,84.2 82.3,120.2 114.9,90.1 86.7,85.7 58,82.9 63.3,100.8 113.1,106.3 61.7,96.6 119.1,107 55.4,115.5 68.7,72.8 97.1,110.9 82.9,58.7 82.8,88.8 65.9,105 93.2,90.3 56.2,73.4 103.3,116.6 66.5,111.3 83.4,112.8 78.9,95.2 77.3,90.9 114.1,97.5 110.7,108.8 69.3,106 100.3,74.5 76.2,76.1 80.7,95.8 130.5,115.8 72.3,86.6 54.7,93 55.2,93.7 95.5,60.5 79.8,82.7 97.4,111.9 83,111.8 62.5,69.8 115.4,94.5 67.8,81.2 94.1,99.7 114.3,111.6 99.1,92.4 77.2,63.6 86.3,91 71.6,113 80.8,101.9 62.3,104.6 65.4,93.8 50.8,76.5 75.2,51 71.9,92.6 101.2,103.3 91.1,95.1 62.3,96.1 99,103.2 49.4,96 102.6,96.4 100,113.2 85.5,86.3 68.6,102.2 66.1,110.8 78,87.4 79.2,104.1 79.1,57.5 70.1,87.7 72.3,95.1 63.3,107.9 86.2,103 60.5,80.2 83.4,107.1 88.7,82.2 106.1,122.9 89.1,93.2 78.8,81.1 66.6,90.7 103.4,96.8 77.3,76.8 57.2,109.4 91.5,111.1 73.4,94.9 67.5,72.3 66.1,89 79.8,99.9 98.1,91.5 76.6,88.8 107.5,114.2 99.6,128.6 92.3,111.6 98.2,117 92.7,105.7 68.7,113.7 91,109.6 98.6,88.9 97.8,95.1 109.6,97.1 56.4,60.2 53.5,103.9 54.3,102.7 68.2,70.5 60.3,112.5 99.4,118.3 65.4,69.3 89.1,90.5 91.1,85.3 67.2,84.5 82.9,78.7 75.5,103.8 77.1,97.6 109.8,112.3 69.6,93.8 76.6,92.1 98.2,103.4 65.1,83.6 81.7,11.5 72.3,112.7 52.9,80 38.1,77.4 94.2,74.5 50.5,108.1 75.3,71.2 67,83.5 96.5,97.9 73.7,101.4 59.6,91.4 64.3,77.1 68.1,78.2 80.3,38.7 84.5,101.3 69.5,83.7 58.5,102.4 64.2,80.2 99.1,93.1 50.7,104.8 72.2,114.2 83.7,107.2 73.8,91 67.2,63.3 93,80.3 68,112.7 89.1,103.2 79,94.9 70.3,97.8 54,94.8 59,81.1 103.1,92.6 89.1,107.1 70.5,121.3 77.5,102.2 82.2,119 119.1,99.7 56.4,91.7 69.5,115.7 100.4,99.9 84,103.1 71.6,55.5 73.8,90.1 120.2,121.8 84.5,90.6 104.9,91.2 62,101.7 72.8,104.4 65.1,88.1 82.7,86.9 64.8,91.3 114.8,112.8 107.8,102.9 87.9,119.1 138.2,118.5 99.5,107.5 79.1,113.8 85.7,105.6 55.4,40.1 67.3,90.9 111.3,112 122,125 90.9,111.5 85.4,118.3 76.4,125.4 60.9,87.1 95.1,107.1 88.4,92.5 77.7,13.5 77,95.5 68.4,98.1 82.5,94.2 120.1,104.1 68.9,111.6 73,103.3 72.4,78.3 72.3,104.1 75.3,117.8 62.1,116.5 64.1,114 82,99.7 129.8,91.6 68.1,91.6 51.5,76.9 75.7,102.8 102,84.3 106.1,94 73.3,86.7 109.6,121.9 52.8,74.6 89.8,118.9 84.3,114.4 106.8,84.6 71.9,104.7 60.9,60.6 97.9,95.9 80.3,112.9 45.3,95.8 70.1,104.6 43.2,65.9 62.9,63.8 90.5,84.7 76.4,104.5 62,96.8 63.7,78 76.8,109.9 122.1,109.8 79.3,82.3 97.2,84.6 106.3,101.8 93.6,102.4 75.4,122.4 77.5,74.8 91.3,100 82.7,117.2 71.6,113.8 75,111 75.2,61.4 72.1,85.5 71.7,116.2 77,57.1 60.9,70.9 110.9,113 116.4,128.1 75.5,79.6 95.8,107.1 72.9,100.2 84.8,106 87.5,72.7 58.6,67.3 96.5,82.9 62.1,100.4 122.6,93.5 86.5,86.7 67.3,118.6 68.2,73.1 50.8,103 100.2,93.5 65.1,95.6 74.3,80.8 56,77.1 71.3,46 111.5,103.4 98.7,110.9 110.4,95.6 100.2,107.6 104.6,81.5 98,109.6 81.4,95.5 88.1,79.7 66.9,78 60.6,94.1 95.1,68.4 59,71.5 97,119.6 76.4,91.3 75.8,94.5 78.7,102.3 69.9,107.1 119.8,96.7 110.7,90.6 65.4,92.7 66.3,69.3 49,78.1 68.5,106.4 105.6,108.7 102.8,81.3 121.9,107.9 75.6,94.5 90.9,88.8 60.3,77.2 81.1,88 80,67.1 90.2,104.5 65.4,84.9 75.9,107.3 111.7,94.1 62.4,95.2 73.1,110.8 88.2,127.4 61.8,78.8 60,90.9 51.6,94.9 95.8,107.8 104.9,102.6 95.6,89.2 82,97 75.4,74.1 60,95.3 85.8,109.4 82.5,86.2 73.6,107 59.5,93.6 111.3,120.6 66.2,102.9 67.1,87.3 122.1,107.3" fill="none" stroke="none" marker-start="url(#d)" marker-mid="url(#d)" marker-end="url(#d)"/>
<polyline points="37,5 37.8,13.5 38.9,24.2 39.7,32.2 40.5,37.5 41.6,42.8 45,48.2 49,57.5 53,65.5 58.4,72.2 63.7,78.8 69,85.5 74.4,92.2 82.6,94.8 91.4,102.8 100.3,109.9 109.2,116.1 118,121.4 126.9,125.8 135.7,130.3 139.3,131.1 166.1,132.3" fill="none" stroke="#555" stroke-width="1.1"/>
</g>
<rect x="36.9" y="118.5" width="74" height="10.5" fill="#fff" fill-opacity="0.72"/>
<text x="41.9" y="126.4" font-size="7.4" fill="#1c1c1c" stroke="#1c1c1c" stroke-width="0.15">Correlation: -0.3319</text>
</g>
<g transform="translate(191.4,166.5)">
<rect x="0" y="0" width="170.2" height="158.9" fill="#e4e4e4" stroke="#a4a4a4" stroke-width="1"/>
<rect x="1" y="1" width="168.2" height="156.9" fill="none" stroke="#f4f4f4" stroke-width="0.8"/>
<rect x="36.5" y="5" width="129.6" height="127.8" fill="#fff" stroke="#a9a9a9" stroke-width="1.0"/>
<line x1="33.5" y1="16.8" x2="36.5" y2="16.8" stroke="#aaa" stroke-width="0.7"/>
<text transform="translate(33.6,19.7) rotate(-55)" font-size="7.6" text-anchor="end" fill="#1c1c1c" stroke="#1c1c1c" stroke-width="0.3">0.240</text>
<line x1="33.5" y1="51.8" x2="36.5" y2="51.8" stroke="#aaa" stroke-width="0.7"/>
<text transform="translate(33.6,54.7) rotate(-55)" font-size="7.6" text-anchor="end" fill="#1c1c1c" stroke="#1c1c1c" stroke-width="0.3">0.180</text>
<line x1="33.5" y1="87.8" x2="36.5" y2="87.8" stroke="#aaa" stroke-width="0.7"/>
<text transform="translate(33.6,90.7) rotate(-55)" font-size="7.6" text-anchor="end" fill="#1c1c1c" stroke="#1c1c1c" stroke-width="0.3">0.120</text>
<line x1="33.5" y1="122.8" x2="36.5" y2="122.8" stroke="#aaa" stroke-width="0.7"/>
<text transform="translate(33.6,125.7) rotate(-55)" font-size="7.6" text-anchor="end" fill="#1c1c1c" stroke="#1c1c1c" stroke-width="0.3">0.060</text>
<text transform="translate(10,68.4) rotate(-90)" font-size="7.65" text-anchor="middle" fill="#1c1c1c" stroke="#1c1c1c" stroke-width="0.15">Shields parameter</text>
<line x1="52" y1="132.8" x2="52" y2="135.3" stroke="#aaa" stroke-width="0.7"/>
<text x="52" y="143.5" font-size="7.5" text-anchor="middle" fill="#1c1c1c" stroke="#1c1c1c" stroke-width="0.15">0.00</text>
<line x1="95" y1="132.8" x2="95" y2="135.3" stroke="#aaa" stroke-width="0.7"/>
<text x="95" y="143.5" font-size="7.5" text-anchor="middle" fill="#1c1c1c" stroke="#1c1c1c" stroke-width="0.15">0.01</text>
<line x1="138.4" y1="132.8" x2="138.4" y2="135.3" stroke="#aaa" stroke-width="0.7"/>
<text x="138.4" y="143.5" font-size="7.5" text-anchor="middle" fill="#1c1c1c" stroke="#1c1c1c" stroke-width="0.15">0.01</text>
<text x="101.3" y="152.8" font-size="7.65" text-anchor="middle" fill="#1c1c1c" stroke="#1c1c1c" stroke-width="0.15">slope</text>
<clipPath id="c4"><rect x="36.5" y="5" width="129.6" height="127.8"/></clipPath>
<g clip-path="url(#c4)">
<polyline points="90,109.7 83.4,116 110.1,101.9 49.9,90.6 87.4,75.7 78.7,96.2 76.7,106.4 94.3,109.5 127.4,84.2 126.9,63.1 67.5,93.3 36.8,115 100.2,111.7 103,64.1 114.4,94.6 90.1,120.2 85.6,99.4 102,114.1 70,107.4 70.8,105.5 67.5,108.6 74,88.1 71,99 67.1,106.9 77.8,90.8 123.6,82.5 63,119.3 84.2,102.1 77,112 98.3,100.8 59.1,115.6 96,97.7 75.1,98.6 90.1,102.8 77.1,112.8 116.3,104.2 83.6,113.3 104,116.3 118.1,94.2 68,113.5 100.6,74.9 97.8,84.8 94.1,122.7 82.1,93.3 104.5,113.4 66.2,97.5 72.3,97.3 79.3,122.6 72.8,101.7 89.9,102.1 97.7,79.6 72,114.4 101.1,84.4 73,113.4 80.5,103.2 82.8,110.2 91.4,68 114.3,87.8 139.8,38.8 92.9,86.3 84.1,82.1 81,82.2 122,107.1 127.5,99.1 69.2,70.5 109.3,104.2 87.2,94.8 122.9,98.3 128.3,87 81.8,103.7 79.7,100.5 63.8,93.9 92,96.3 118.8,110.5 95.5,81 89.5,115.7 108.9,114.6 103.5,115.5 121.2,79.5 107,103.6 113,111.9 78.2,113.8 111.5,90.6 117.5,112.9 76.7,115.4 81.5,86.9 112.3,114.5 109.7,103.1 92.2,98.1 102.3,104.9 109.2,98.9 131,70.8 100.9,105.9 62.7,115.2 89.9,121.2 96,101.3 126,103.5 77.9,93.5 128.2,105.1 121.4,105.3 81.6,108.7 84.3,105.9 140.2,95.3 41.6,103.9 82.5,96.3 107.2,55.6 100,89.5 108.2,118.6 113.9,60.4 106.7,92 88.8,111.5 106.1,80.8 92.7,97.7 99.9,107.2 106.1,107.5 80.2,112.1 102.4,97.2 108.3,77.2 95.3,103.1 92.5,90.6 109,56.4 72.6,114.7 73.1,93.6 103.9,102.8 57.5,112.9 94.5,112.5 85.3,98.3 116.1,90.4 100.7,106.1 68.8,97.1 120.8,84.7 108.1,92.9 113.8,81.6 82,89.8 90.6,89.3 115.2,57.8 82.8,86.7 144.2,95.8 81.8,84.9 63.6,111.2 111.2,103.3 94.5,83.2 116.9,86.5 157.6,65.4 129.3,97.8 54.7,117.5 94,54.3 112,76.7 73.9,112.9 97.9,69.9 117.3,97.5 80,121 84.5,104.5 52.5,105.8 101.3,64.3 86.3,109.6 89,102 98.2,102.4 119.9,103.9 117.3,111.2 44.7,94.3 99.6,77 107.6,86.7 103.5,111.3 101.4,114 106.3,96 70.2,108.5 86.5,107.5 62.3,119.7 149.4,54.2 103.5,80.6 86.9,111.9 83.5,80.8 100.4,70.7 69.9,126 97.3,106.3 104.6,104 87.4,86.2 91.4,100 123.1,101.7 97.9,99 93.9,57 91.8,47.7 63,106 56.7,111.3 127.4,31.4 78.5,112 60.9,106.7 66.9,97.4 101.3,89.4 94.4,78.1 92.2,91.2 101.9,110.6 115.1,89 117.1,93.7 127.9,56.3 90.7,98.2 98.8,116.1 107.5,112.8 135.4,68 110.4,106.2 86,123.6 82.3,106.8 97.8,98 92.2,74.4 102,112.4 67.2,85.8 111.9,83.2 92.6,108.4 98,101 88.3,59.4 99.9,60.8 89.5,81.9 141.6,92.2 75.8,75.6 106.9,100.3 76.5,99.5 111.7,110.5 116,97.9 106.2,99.3 92.2,30.6 89.7,101.1 118.2,72.5 78.3,71.2 138.8,101 63.3,74.9 66.7,124.3 87.9,96.4 109.6,81.9 71.6,126.1 43.4,114.1 113.5,77.5 97.5,102.1 108.2,113.4 92.8,103.8 111.5,106.2 109.4,84.7 80.2,90 132.8,102.4 142.6,107.9 115.2,98.9 93.2,71.1 78.2,91.9 63.9,86.4 109.1,100.4 60.8,115.6 135.4,108.5 124,86.1 71.3,96.3 76.6,111 126.4,119.1 89.2,96.1 101.7,103.3 94.8,103.5 85.1,103.2 74.6,93.1 90.1,92.9 144.4,79.6 108.8,80.3 122.3,71 128.5,83 102.7,103.3 92.8,98.9 114.3,89.2 88.7,102.9 130.5,88.2 75.1,75.2 104.2,109.7 72.2,120.6 100.5,74.3 97.8,97.7 110.8,85 112.8,116.1 113.2,60.4 105.7,84.4 76.6,100 115.5,103.5 84.1,96.1 98.8,100.7 76.5,102.4 102.1,113.6 74.3,72.7 58.7,98.6 90.1,96.8 122.8,96.4 99.1,125.8 52.2,88.6 95.7,103.2 66.3,102.6 82.2,96.8 85.1,111.9 101.5,82.2 60.7,108.3 117.5,111 108.4,110.5 72.6,95.3 94,84.2 124.2,107 101.2,118 133.2,77.3 110.9,113 111.5,74.3 69.9,98.9 78.2,108.4 106.2,107.6 107.2,89.8 124.3,81.2 78.8,101.2 138.6,79.9 108.1,50 102.8,101.3 95.2,114 53.5,112.9 116.9,116.7 79.7,107.6 65.3,108.7 37,116 130.4,88.5 54.8,127.7 124.6,115.9 85.3,52.2 129.3,77.9 91.3,88.7 121.1,89.9 99.9,59.4 117.5,88.4 93.3,96.7 94.7,114.9 99.4,99.2 96.5,108.8 116.7,108.5 127.6,108.6 100.7,98.7 76.4,103.2 100,81.6 85.5,116 79.5,100.7 104.5,56.8 120.6,97.4 89.7,74.2 112.6,75.6 116.4,71.3 130.1,84.4 100.3,116.6 96.9,102.2 147.8,103.9 73.5,118.4 104.1,105.1 54.2,115.1 79,119.5 118.3,94.4 76.4,98.7 119.1,108.2 108.3,111.6 80.2,106.2 93.7,104.1 55,104.3 96,98.9 79.4,104.7 101.7,91.2 109.9,88.7 121.1,91.8 100.8,107.9 109.1,107.3 143.4,90.3 66.1,101.2 77.8,98.7 83.3,126.8 46.2,128.4 66.2,92.2 70.2,92.3 87.9,69.4 105.3,84.7 82.6,94.2 127.2,97.7 83.9,117.1 90.6,81.3 98.2,107.1 108.5,89.1 87.8,94.6 103.4,93.3 108.7,81.1 75.8,105.5 104.5,104 109.2,110.4 90.7,103.9 71.4,62.3 99.7,103.7 109.9,74.5 117.5,82.5 97.9,84.6 92.2,83 107.3,112.4 64.3,91.5 130.8,64.4 73.8,108.3 89.9,98.8 64.9,108.2 95.6,92.5 77.7,113.2 70,63.8 58.4,103.9 114.8,118.3 145.8,58.8 111.5,79.4 141.1,88.7 138.6,88.5 61.1,103.6 128.4,101.6 110.2,84.7 106.3,80.6 103.9,80.2 115.2,94.4 104.7,105.2 82.2,101.1 120.6,76.3 98.9,68.3 91.9,103.3 95.9,105.3 103.1,73 92.3,84.7 104.4,85.2 121.2,115.8 111.9,103.8 107.8,105.9 123.2,94.5 94.7,119.7 107.5,72.4 85.4,92.8 97.2,90.3 78.1,114.4 121,98.4 114.1,70.9 79,118.6 93.7,92.7 95.7,85.2 69,108.3 138.6,82.8 111.2,103.2 112.7,73.4 71.1,88.6 129.4,94.2 117.5,52.4 125.8,82.4 103.7,71.5 83.5,114.5 97.5,107.7 97.7,82.3 76.1,80.8 107.9,98.9 111.1,83.5 122.8,112.9 73.1,94.4 45.9,114 84.2,92.1 57.4,105.4 73.5,107.6 116.7,97.1 95.8,58.1 91.4,112.4 92.3,107.1 96.5,77.2 64.1,104.5 90,59.4 78.4,94.2 91.3,96.5 100.6,91.8 116.8,60.2 148.8,86.1 81,88.8 137.4,93.7 90.8,118.5 98.9,110.8 99.5,67.1 95.2,82.6 121.9,89 89.9,86.4 81.5,106.3 104.4,92.1 110.6,111 100.5,91.2 75.3,108.6 106.3,101.4 100.9,90 94.8,103.1 88,86.2 110.9,89.9 110.8,91.7 83.1,71.1 112.3,117.6 98.9,118.8 86.5,86.8 92.7,80.1 106.1,52.3 124.9,84 98.4,82.4 105.8,110.8 115.9,84.1 97.5,85.7 81.9,112.9 96.4,110.9 125.4,99.8 83.3,93 60.8,130.1 99.2,96.8 100.1,94.1 102.8,100.8 101.3,93.4 106,89.9 83.8,112.4 114.8,90.7 97.2,102 104.7,111.5 84.6,94.4 119.2,67 82.5,117.4 93.1,119.4 72.6,119.4 143,53.4 120.3,102 124.7,99 73,109.5 81.5,111.5 83.3,122.9 96.5,95.1 74.9,93.6 98.6,122.5 106.8,112.7 88.3,109 84.3,98.4 93.8,93.8 112.1,75.9 107.1,70.2 103.2,77.2 111.4,70.7 105,114.2 96,106.4 158.6,75.5 109.5,93 79.9,97.7 69.3,122.5 93.2,121.4 97.1,84.5 90.8,92.1 101.3,102.7 102.7,104.4 64.9,120.1 106.1,91.5 103.3,78 105.3,62.9 65.1,97.2 86.5,101.3 98.5,113.4 90.1,73.6 103.4,61.2 107.6,107.2 79.3,93 86.8,96.5 87.3,106.7 38.8,126.9 90,103.7 92.6,87 80.8,117.3 88.2,110.2 89.4,131.8 77.6,72.1 98.1,89.1 103.3,97.2 107.8,102.3 73.5,107.5 44.7,99.3 113,102.9 92.9,101.9 66.8,98.6 99.9,95.9 91.9,65.4 112,117.3 80.6,93.5 109.7,107.4 59,113.9 36.7,125.8 93.6,87 66.4,112.1 86.1,109.2 99.9,89.9 108.5,113.3 88.8,97.7 59.7,99.4 80.3,83.3 93.5,78.7 111.7,110.7 105.3,80.8 110.9,99.7 74.9,96.1 103.6,101.5 99.6,83.8 98.9,114.8 110.3,93.7 94.4,75 86.9,102.6 106,52.2 77.9,109 68.3,94.5 92,105.5 96.8,107.4 104.2,113.7 95.5,106.3 57.6,99 111.3,109.9 118,81.5 113.2,66.4 77.1,118.3 104.1,82.6 99.8,95 97.2,94 158.3,38.1 126.1,74.3 59.7,92.4 96.5,95.1 99.1,124.2 88.1,83.7 68.8,109 87.5,95 152.1,96.4 113.4,79.6 120.1,51.8 98.9,79.1 94.8,72.4 94.4,101.7 122.9,89.9 88.3,83.7 80.5,117.2 130.6,51.4 96.8,108.6 89.6,115.5 102.4,63.2 102,49 91.7,108.4 84.1,107.2 80.2,5.3 89.2,96.1 64.8,122.6 105.4,107.2 115,52.6 99.7,86 116.5,84.1 115.3,73.6 95.7,85.6 74.7,103.2 82.7,118.8 142.4,90.1 80.9,113.6 97.7,98.9 112.9,59.7 114.8,88.3 89.5,97 107.4,96.9 88.1,84.5 92.4,80.5 92.3,115.9 116,94.9 98.8,60.9 115.6,84 103.3,109.3 88.3,108.1 90.9,123.3 75.8,109.6 151.2,63.9 81.3,99.1 130.9,110.4 74.3,106.7 95.4,99.8 118.9,99.7 84.5,103.5 104.5,109.3 79.9,86.4 83.6,65.7 80.1,106.6 75.1,106.2 84.2,74.4 89.2,117.5 107.3,106.9 91.9,103.9 88.9,95.2 111.5,102.3 115.2,110.8 93.8,92.6 98.1,114.4 90.3,120.3 135.5,123 76.6,84.2 92.6,120.2 101.2,90.1 103,85.7 79.6,82.9 75.4,100.8 87.9,106.3 76.5,96.6 97.6,107 81.4,115.5 88.3,72.8 86.3,110.9 109.6,58.7 114.2,88.8 106.2,105 101.9,90.3 89,73.4 83.1,116.6 97.3,111.3 106.4,112.8 109.3,95.2 77,90.9 53.6,97.5 97.3,108.8 87.4,106 95.3,74.5 79,76.1 81.3,95.8 79.6,115.8 100.2,86.6 100.2,93 93.4,93.7 112.1,60.5 91.4,82.7 91.4,111.9 89.6,111.8 77.4,69.8 110.9,94.5 81.5,81.2 79.4,99.7 81.8,111.6 97.7,92.4 102.8,63.6 67.6,91 90.9,113 98,101.9 86.1,104.6 141.9,93.8 112,76.5 104,51 134.5,92.6 104.7,103.3 100.2,95.1 94,96.1 112.9,103.2 47.1,96 129.8,96.4 107.9,113.2 62.8,86.3 87.6,102.2 130.9,110.8 107.7,87.4 41.9,104.1 133.8,57.5 142.1,87.7 108.5,95.1 115.7,107.9 65.4,103 119,80.2 88.3,107.1 102.6,82.2 36.7,122.9 121.4,93.2 128.9,81.1 142.2,90.7 88.5,96.8 67.1,76.8 116,109.4 122.1,111.1 73.3,94.9 113.1,72.3 123.1,89 113.4,99.9 108.4,91.5 101.3,88.8 106.6,114.2 104,128.6 75.1,111.6 41.9,117 83.4,105.7 74.4,113.7 67.2,109.6 85.1,88.9 85.3,95.1 93.8,97.1 118.8,60.2 92.8,103.9 87.5,102.7 67.3,70.5 139.5,112.5 99.9,118.3 77.9,69.3 112.5,90.5 99.1,85.3 102.6,84.5 98.7,78.7 132.3,103.8 121.4,97.6 107,112.3 153.3,93.8 93.7,92.1 99.8,103.4 117.7,83.6 143.6,11.5 88.1,112.7 103.2,80 91.2,77.4 91.1,74.5 112.3,108.1 99.2,71.2 102.6,83.5 64,97.9 99.2,101.4 104.9,91.4 120.4,77.1 85.4,78.2 86.4,38.7 116.8,101.3 83.1,83.7 106.9,102.4 99.9,80.2 102.3,93.1 63,104.8 88.7,114.2 96.4,107.2 110.2,91 113.7,63.3 135.4,80.3 90.2,112.7 99.8,103.2 95,94.9 106,97.8 110.3,94.8 85.9,81.1 69.1,92.6 103,107.1 131,121.3 83.5,102.2 115.3,119 88.3,99.7 104.2,91.7 57.2,115.7 135.6,99.9 89.4,103.1 134.2,55.5 110.9,90.1 83.8,121.8 97.3,90.6 146.7,91.2 96.6,101.7 92.1,104.4 102.8,88.1 98.2,86.9 86.2,91.3 95.1,112.8 58.9,102.9 82.1,119.1 75.6,118.5 56.5,107.5 81.2,113.8 107.1,105.6 130.8,40.1 101.9,90.9 109.8,112 77.3,125 70.9,111.5 54.1,118.3 91.8,125.4 110.3,87.1 116.1,107.1 87.3,92.5 110.1,13.5 115.2,95.5 71.4,98.1 66.4,94.2 106.6,104.1 111.5,111.6 71.3,103.3 91.6,78.3 82.5,104.1 78.2,117.8 76.9,116.5 78.8,114 105.2,99.7 145.8,91.6 135.1,91.6 110.9,76.9 87.3,102.8 105.4,84.3 99.2,94 103.4,86.7 101.7,121.9 110.1,74.6 79.2,118.9 81,114.4 117.8,84.6 97.5,104.7 108.4,60.6 56.1,95.9 75.6,112.9 83.4,95.8 101.2,104.6 97.4,65.9 110.2,63.8 93.9,84.7 94.7,104.5 104.1,96.8 112,78 65.4,109.9 97.6,109.8 106.8,82.3 84.1,84.6 94.3,101.8 83.9,102.4 89.7,122.4 96.3,74.8 113.8,100 103.7,117.2 73.3,113.8 91.4,111 127.8,61.4 107.3,85.5 96.9,116.2 125.2,57.1 113.4,70.9 115,113 64.1,128.1 103.3,79.6 116.1,107.1 125.7,100.2 102.4,106 94.2,72.7 124,67.3 94.5,82.9 89.7,100.4 70.6,93.5 93.3,86.7 64.2,118.6 99.5,73.1 102.5,103 88.6,93.5 101,95.6 127.5,80.8 122.8,77.1 133.6,46 95.3,103.4 93.2,110.9 122.5,95.6 107.4,107.6 114.9,81.5 76.8,109.6 86.6,95.5 78.3,79.7 112.9,78 97.1,94.1 85,68.4 118.9,71.5 70.6,119.6 90.9,91.3 123,94.5 147.9,102.3 75,107.1 91.7,96.7 106.2,90.6 106.5,92.7 128.4,69.3 119.6,78.1 110.6,106.4 99.6,108.7 127.8,81.3 97.9,107.9 141.8,94.5 109.8,88.8 102.8,77.2 119.9,88 108.5,67.1 81.4,104.5 125.7,84.9 114.6,107.3 52.8,94.1 109.5,95.2 101.7,110.8 85.2,127.4 84.5,78.8 101.9,90.9 103.3,94.9 101.6,107.8 121.4,102.6 61.8,89.2 81.7,97 67.6,74.1 103.2,95.3 106.9,109.4 110.6,86.2 101.5,107 115.4,93.6 128.1,120.6 80.4,102.9 86.1,87.3 116.1,107.3" fill="none" stroke="none" marker-start="url(#d)" marker-mid="url(#d)" marker-end="url(#d)"/>
<polyline points="35.8,132.3 45,128.8 55.3,124.6 65.7,120.5 68.6,116.8 77.5,111.4 86.4,106.1 95.2,99.9 104.1,92.8 113,85.7 121.9,75.9 127.5,67.1 131.1,59.8 134.8,56.2 138.4,53.8 142,47.7 145.7,41.6 148.1,38 149.3,31.9 151.8,30.7 153.7,29.5 154.2,18.5 154.9,12.4 157.8,10 163.9,5.1 165.1,5" fill="none" stroke="#555" stroke-width="1.1"/>
</g>
<rect x="90.6" y="118.5" width="65.5" height="10.5" fill="#fff" fill-opacity="0.72"/>
<text x="154.6" y="126.4" font-size="7.4" fill="#1c1c1c" text-anchor="end" stroke="#1c1c1c" stroke-width="0.15">Correlation: 0.3486</text>
</g>
<g transform="translate(365.6,166.5)">
<rect x="0" y="0" width="170.2" height="158.9" fill="#e4e4e4" stroke="#a4a4a4" stroke-width="1"/>
<rect x="1" y="1" width="168.2" height="156.9" fill="none" stroke="#f4f4f4" stroke-width="0.8"/>
<rect x="36.5" y="5" width="129.6" height="127.8" fill="#fff" stroke="#a9a9a9" stroke-width="1.0"/>
<line x1="33.5" y1="16.8" x2="36.5" y2="16.8" stroke="#aaa" stroke-width="0.7"/>
<text transform="translate(33.6,19.7) rotate(-55)" font-size="7.6" text-anchor="end" fill="#1c1c1c" stroke="#1c1c1c" stroke-width="0.3">0.240</text>
<line x1="33.5" y1="51.8" x2="36.5" y2="51.8" stroke="#aaa" stroke-width="0.7"/>
<text transform="translate(33.6,54.7) rotate(-55)" font-size="7.6" text-anchor="end" fill="#1c1c1c" stroke="#1c1c1c" stroke-width="0.3">0.180</text>
<line x1="33.5" y1="87.8" x2="36.5" y2="87.8" stroke="#aaa" stroke-width="0.7"/>
<text transform="translate(33.6,90.7) rotate(-55)" font-size="7.6" text-anchor="end" fill="#1c1c1c" stroke="#1c1c1c" stroke-width="0.3">0.120</text>
<line x1="33.5" y1="122.8" x2="36.5" y2="122.8" stroke="#aaa" stroke-width="0.7"/>
<text transform="translate(33.6,125.7) rotate(-55)" font-size="7.6" text-anchor="end" fill="#1c1c1c" stroke="#1c1c1c" stroke-width="0.3">0.060</text>
<text transform="translate(10,68.4) rotate(-90)" font-size="7.65" text-anchor="middle" fill="#1c1c1c" stroke="#1c1c1c" stroke-width="0.15">Shields parameter</text>
<line x1="69.6" y1="132.8" x2="69.6" y2="135.3" stroke="#aaa" stroke-width="0.7"/>
<text x="69.6" y="143.5" font-size="7.5" text-anchor="middle" fill="#1c1c1c" stroke="#1c1c1c" stroke-width="0.15">0.80</text>
<line x1="106.3" y1="132.8" x2="106.3" y2="135.3" stroke="#aaa" stroke-width="0.7"/>
<text x="106.3" y="143.5" font-size="7.5" text-anchor="middle" fill="#1c1c1c" stroke="#1c1c1c" stroke-width="0.15">1.00</text>
<line x1="142.3" y1="132.8" x2="142.3" y2="135.3" stroke="#aaa" stroke-width="0.7"/>
<text x="142.3" y="143.5" font-size="7.5" text-anchor="middle" fill="#1c1c1c" stroke="#1c1c1c" stroke-width="0.15">1.20</text>
<text x="101.3" y="152.8" font-size="7.65" text-anchor="middle" fill="#1c1c1c" stroke="#1c1c1c" stroke-width="0.15">depth</text>
<clipPath id="c5"><rect x="36.5" y="5" width="129.6" height="127.8"/></clipPath>
<g clip-path="url(#c5)">
<polyline points="117.2,109.7 97.6,116 109.4,101.9 100.3,90.6 121.4,75.7 114.2,96.2 129,106.4 90.7,109.5 98.2,84.2 125.6,63.1 130.1,93.3 87.4,115 97,111.7 142.1,64.1 112,94.6 62.1,120.2 137.2,99.4 116.6,114.1 53.2,107.4 115.1,105.5 115,108.6 79.5,88.1 151.8,99 85,106.9 111.9,90.8 144.4,82.5 94.8,119.3 107.7,102.1 97.3,112 105.2,100.8 74.6,115.6 97.1,97.7 124.1,98.6 108.4,102.8 117.8,112.8 85.6,104.2 100.6,113.3 76,116.3 81.8,94.2 90.9,113.5 117,74.9 112.5,84.8 71,122.7 124.7,93.3 73.9,113.4 101.4,97.5 78,97.3 73.9,122.6 92.2,101.7 125,102.1 106.5,79.6 117.6,114.4 135,84.4 76.2,113.4 74,103.2 83.7,110.2 120.3,68 116.3,87.8 88.5,38.8 130.2,86.3 134.7,82.1 123.2,82.2 145.5,107.1 112.7,99.1 125.8,70.5 104.4,104.2 115.9,94.8 101.7,98.3 124.9,87 123.2,103.7 119.8,100.5 121.9,93.9 107.9,96.3 144,110.5 120.6,81 116.6,115.7 91.5,114.6 112.4,115.5 132.8,79.5 95.3,103.6 128.8,111.9 109.8,113.8 88.4,90.6 113.5,112.9 111,115.4 129.1,86.9 108.9,114.5 114.2,103.1 90.6,98.1 106.1,104.9 105.3,98.9 95.4,70.8 137.2,105.9 73.6,115.2 90.3,121.2 97.3,101.3 68.6,103.5 108.2,93.5 122.4,105.1 108.4,105.3 109.4,108.7 100.4,105.9 120.6,95.3 115.2,103.9 109.3,96.3 128,55.6 115.5,89.5 76.1,118.6 123.2,60.4 119.4,92 109,111.5 103.3,80.8 121.7,97.7 84.6,107.2 55.3,107.5 123.3,112.1 125.8,97.2 138.2,77.2 88.2,103.1 112,90.6 112.8,56.4 142.1,114.7 100.6,93.6 118.9,102.8 109.6,112.9 132.6,112.5 110.6,98.3 113.4,90.4 127,106.1 107.8,97.1 118.7,84.7 110.5,92.9 113.6,81.6 129.8,89.8 100.5,89.3 132.3,57.8 118.3,86.7 135.1,95.8 117.1,84.9 125.2,111.2 128.2,103.3 111.7,83.2 109.3,86.5 130.4,65.4 117.2,97.8 126.3,117.5 113.4,54.3 135.1,76.7 89.9,112.9 103.3,69.9 124.9,97.5 99.6,121 132.5,104.5 153,105.8 135.6,64.3 92.1,109.6 113,102 78.4,102.4 110.3,103.9 108.9,111.2 112.4,94.3 114.3,77 110.6,86.7 59,111.3 98,114 118.6,96 124.4,108.5 109.6,107.5 103.4,119.7 116.2,54.2 115.6,80.6 96.6,111.9 121.1,80.8 132.9,70.7 100.4,126 89.2,106.3 107.6,104 119.5,86.2 156,100 109.7,101.7 128.2,99 134.7,57 132.3,47.7 119.1,106 105.1,111.3 103.4,31.4 126,112 94.5,106.7 122.2,97.4 121.8,89.4 109.4,78.1 102.4,91.2 53.3,110.6 125.1,89 154.8,93.7 140.4,56.3 136.3,98.2 124,116.1 96.5,112.8 131,68 83.7,106.2 112.3,123.6 61.2,106.8 128.7,98 98.9,74.4 117.8,112.4 118.1,85.8 128.1,83.2 98.7,108.4 114.7,101 114.1,59.4 136.5,60.8 106.7,81.9 95.5,92.2 119.5,75.6 85.5,100.3 120.5,99.5 101.9,110.5 112.1,97.9 136.1,99.3 135.4,30.6 108.3,101.1 143.8,72.5 80.4,71.2 114.2,101 151.9,74.9 80.7,124.3 107.6,96.4 124.5,81.9 77,126.1 95.8,114.1 130.2,77.5 134.1,102.1 94.2,113.4 105.6,103.8 104.8,106.2 124.4,84.7 127.7,90 136.7,102.4 122.9,107.9 121.1,98.9 104.7,71.1 131.9,91.9 135.8,86.4 110.9,100.4 103.7,115.6 90.9,108.5 108.9,86.1 128.3,96.3 110.7,111 108.8,119.1 122.1,96.1 123.5,103.3 115.9,103.5 98.8,103.2 107.5,93.1 132.5,92.9 138.2,79.6 118.5,80.3 134.2,71 123.4,83 129.6,103.3 126.9,98.9 126.9,89.2 106.5,102.9 118.7,88.2 127.6,75.2 115,109.7 103.6,120.6 142.3,74.3 126,97.7 112.3,85 67.3,116.1 123.2,60.4 125.2,84.4 99.9,100 100.9,103.5 125.2,96.1 117.4,100.7 95.2,102.4 79.7,113.6 132.8,72.7 87.2,98.6 92.2,96.8 127.4,96.4 85.5,125.8 133.1,88.6 129,103.2 93.1,102.6 104.6,96.8 101.9,111.9 98.1,82.2 96.3,108.3 80.4,111 99.3,110.5 139.4,95.3 103.1,84.2 86,107 105.1,118 75.3,77.3 70.8,113 132.3,74.3 95.2,98.9 140.1,108.4 75.4,107.6 143.8,89.8 122.5,81.2 128.1,101.2 91,79.9 143.2,50 133.3,101.3 119.1,114 97,112.9 98,116.7 79.9,107.6 96,108.7 100.8,116 114.7,88.5 94.8,127.7 126.9,115.9 130.3,52.2 100.3,77.9 134.1,88.7 122.1,89.9 104.7,59.4 120.4,88.4 122.8,96.7 113.6,114.9 118.5,99.2 93.4,108.8 96.4,108.5 125.7,108.6 108.7,98.7 98.1,103.2 116.8,81.6 72.2,116 79.8,100.7 123.5,56.8 81.4,97.4 112.4,74.2 124.7,75.6 104.3,71.3 99.3,84.4 93.4,116.6 91.3,102.2 124.7,103.9 105.6,118.4 115.8,105.1 91.5,115.1 97.5,119.5 142.8,94.4 113.1,98.7 125.1,108.2 109.9,111.6 132.2,106.2 108.8,104.1 124.2,104.3 91,98.9 99.5,104.7 123.7,91.2 121.3,88.7 110.4,91.8 118.3,107.9 120.8,107.3 118.2,90.3 97.7,101.2 121.9,98.7 104.7,126.8 72.2,128.4 114.7,92.2 82.8,92.3 156.4,69.4 101.4,84.7 100.3,94.2 117.3,97.7 103.1,117.1 128.2,81.3 115.7,107.1 85.1,89.1 100.4,94.6 105.7,93.3 112.8,81.1 85.9,105.5 129.2,104 111.3,110.4 99.7,103.9 145.6,62.3 136.7,103.7 105.1,74.5 129.5,82.5 113.2,84.6 106.1,83 93.2,112.4 134,91.5 92.6,64.4 62.9,108.3 90.8,98.8 90.7,108.2 115.1,92.5 103.4,113.2 134,63.8 120.2,103.9 89.5,118.3 121.2,58.8 77.3,79.4 124.3,88.7 114.4,88.5 114.3,103.6 119.5,101.6 117.7,84.7 99.3,80.6 105.6,80.2 121.5,94.4 130.2,105.2 106.7,101.1 104.6,76.3 125.3,68.3 120.5,103.3 129.1,105.3 112.7,73 132.2,84.7 105.6,85.2 92.3,115.8 135.9,103.8 80.8,105.9 107.3,94.5 103.4,119.7 118,72.4 109.7,92.8 136.9,90.3 123,114.4 107.6,98.4 135.6,70.9 111.4,118.6 144.2,92.7 100.1,85.2 103.1,108.3 143.6,82.8 123.3,103.2 130,73.4 121.2,88.6 93.1,94.2 110,52.4 132.5,82.4 136.8,71.5 110,114.5 94,107.7 133.2,82.3 124.6,80.8 90.5,98.9 122,83.5 106.4,112.9 78.8,94.4 139.5,114 107,92.1 131.8,105.4 113.9,107.6 102.2,97.1 101.2,58.1 136.6,112.4 87,107.1 137.8,77.2 98.9,104.5 95,59.4 100.5,94.2 103.9,96.5 96.7,91.8 118.4,60.2 102.9,86.1 130,88.8 112.5,93.7 96.1,118.5 111.6,110.8 148.7,67.1 119.1,82.6 145,89 126.7,86.4 118.4,106.3 106.4,92.1 139.5,111 128.7,91.2 90.4,108.6 97.6,101.4 126.7,90 104.1,103.1 106.1,86.2 111,89.9 125.5,91.7 120.4,71.1 86,117.6 75.9,118.8 93.2,86.8 116.9,80.1 149.4,52.3 147.9,84 106.1,82.4 93.3,110.8 98.6,84.1 101.9,85.7 110.9,112.9 153,110.9 84.6,99.8 111.5,93 89.1,130.1 97.2,96.8 114.4,94.1 109.7,100.8 87.2,93.4 118.6,89.9 109.4,112.4 82.1,90.7 148.6,102 96.6,111.5 126.4,94.4 132.1,67 131.4,117.4 69.1,119.4 104.8,119.4 127,53.4 105.5,102 113.9,99 121.2,109.5 105.4,111.5 87.5,122.9 128,95.1 124.6,93.6 115.3,122.5 122.2,112.7 87.3,109 75.9,98.4 106.8,93.8 108.9,75.9 136.3,70.2 144.7,77.2 95.6,70.7 116.1,114.2 126,106.4 114.5,75.5 122.8,93 128.6,97.7 97.9,122.5 119.4,121.4 133.5,84.5 88.2,92.1 117.6,102.7 99.4,104.4 86.7,120.1 124,91.5 104.7,78 121.5,62.9 123.6,97.2 79.7,101.3 62.7,113.4 119.6,73.6 88.9,61.2 80.6,107.2 113.8,93 120,96.5 116.7,106.7 99.1,126.9 102.5,103.7 123.3,87 110.8,117.3 80,110.2 88.7,131.8 160.4,72.1 125.9,89.1 140.8,97.2 100.1,102.3 112.3,107.5 122,99.3 129,102.9 94,101.9 106.7,98.6 95.2,95.9 125,65.4 91.4,117.3 111.8,93.5 104,107.4 94.4,113.9 122.9,125.8 118.5,87 74.8,112.1 135.8,109.2 116.1,89.9 113.3,113.3 112,97.7 103.9,99.4 77.1,83.3 133.8,78.7 80.9,110.7 104,80.8 101.5,99.7 103.8,96.1 105.1,101.5 107.8,83.8 96.8,114.8 104.1,93.7 125.3,75 116,102.6 112.6,52.2 128.4,109 108.9,94.5 96.2,105.5 94.3,107.4 91.2,113.7 86,106.3 113.2,99 59.9,109.9 106.7,81.5 130.6,66.4 86,118.3 75.3,82.6 124.2,95 86.9,94 133.4,38.1 147.9,74.3 92.8,92.4 131,95.1 122.2,124.2 99,83.7 88.8,109 102.4,95 101.3,96.4 127,79.6 127.9,51.8 131,79.1 138.2,72.4 106.2,101.7 138.4,89.9 101.6,83.7 110.9,117.2 127.8,51.4 90.6,108.6 111.2,115.5 115.3,63.2 146.9,49 106.3,108.4 119.8,107.2 151.4,5.3 89.7,96.1 91.7,122.6 123.4,107.2 102.7,52.6 129,86 101.2,84.1 143.8,73.6 103.4,85.6 115.3,103.2 55.8,118.8 137.3,90.1 128.3,113.6 104,98.9 73,59.7 136.2,88.3 123.2,97 133.3,96.9 115.4,84.5 97.5,80.5 89.7,115.9 115.7,94.9 113.4,60.9 136.4,84 105,109.3 136.3,108.1 70.5,123.3 134.9,109.6 108.5,63.9 112,99.1 113.9,110.4 75.3,106.7 97.3,99.8 117.5,99.7 113,103.5 95.3,109.3 92.3,86.4 117.5,65.7 118.8,106.6 99.3,106.2 116.9,74.4 100.8,117.5 100.1,106.9 134.8,103.9 118.6,95.2 119.9,102.3 94.9,110.8 115.5,92.6 121.8,114.4 113.8,120.3 92.9,123 103,84.2 88.7,120.2 112.9,90.1 126.2,85.7 134,82.9 127.4,100.8 89.3,106.3 98.6,96.6 132.2,107 119.9,115.5 68.8,72.8 74,110.9 124.3,58.7 118.3,88.8 133.7,105 110.7,90.3 94.6,73.4 113.7,116.6 91.1,111.3 98.9,112.8 113.3,95.2 121.8,90.9 122,97.5 111.9,108.8 82.2,106 135.5,74.5 113.2,76.1 93,95.8 94.2,115.8 92.5,86.6 105.1,93 107.8,93.7 129.5,60.5 125.4,82.7 110.2,111.9 108.3,111.8 120.9,69.8 136.9,94.5 108.1,81.2 93.8,99.7 88.5,111.6 126.7,92.4 127.2,63.6 131.1,91 104,113 100.9,101.9 123.4,104.6 113.1,93.8 103.5,76.5 123,51 136,92.6 76.4,103.3 104.1,95.1 134.9,96.1 120.4,103.2 96.5,96 87.5,96.4 128.2,113.2 141.8,86.3 134,102.2 116.8,110.8 126.7,87.4 104.5,104.1 84.9,57.5 79.8,87.7 67.8,95.1 105.2,107.9 143.6,103 107.1,80.2 111.5,107.1 144.1,82.2 101.9,122.9 140.2,93.2 106.7,81.1 109.7,90.7 109.7,96.8 137.7,76.8 79.3,109.4 138.6,111.1 108.1,94.9 71.9,72.3 139,89 88.4,99.9 116.9,91.5 120.6,88.8 103.9,114.2 111.9,128.6 121.8,111.6 92.7,117 138.5,105.7 103,113.7 92.9,109.6 124.1,88.9 131.1,95.1 82.4,97.1 130.5,60.2 117.3,103.9 121.8,102.7 113,70.5 116.4,112.5 121.4,118.3 131.8,69.3 99,90.5 139.6,85.3 115.8,84.5 126.4,78.7 120.4,103.8 92,97.6 106.1,112.3 122.2,93.8 113.5,92.1 92,103.4 107.2,83.6 115.4,11.5 78.6,112.7 131.6,80 144.6,77.4 128.2,74.5 126.3,108.1 115.7,71.2 108.8,83.5 131.6,97.9 131.8,101.4 114.1,91.4 108.5,77.1 140.2,78.2 135.4,38.7 92.3,101.3 82.1,83.7 89.9,102.4 103.1,80.2 100.7,93.1 109.9,104.8 64.3,114.2 105.6,107.2 110,91 101.1,63.3 124,80.3 104.5,112.7 76.2,103.2 131.6,94.9 146.5,97.8 108.1,94.8 118.6,81.1 131.3,92.6 105.7,107.1 103.7,121.3 142.2,102.2 102,119 142.4,99.7 109.3,91.7 109.6,115.7 132.7,99.9 120.3,103.1 141.1,55.5 109.1,90.1 115.2,121.8 124.8,90.6 122.9,91.2 105.4,101.7 102.8,104.4 110.1,88.1 109.1,86.9 130.3,91.3 140.6,112.8 123.5,102.9 96.6,119.1 82.6,118.5 115.1,107.5 100.9,113.8 85.9,105.6 160,40.1 110.2,90.9 128.6,112 78.6,125 109.7,111.5 74.5,118.3 102.4,125.4 132.7,87.1 84.5,107.1 117.5,92.5 86.4,13.5 147.6,95.5 82.8,98.1 110.8,94.2 77.4,104.1 105,111.6 145.5,103.3 118,78.3 107.9,104.1 116.8,117.8 127,116.5 79.5,114 98,99.7 133.2,91.6 162.2,91.6 123.4,76.9 90.1,102.8 109.5,84.3 93.1,94 109.8,86.7 80.2,121.9 134.3,74.6 100.4,118.9 102,114.4 96.2,84.6 104.5,104.7 143,60.6 110.3,95.9 104.4,112.9 89.2,95.8 101.8,104.6 101.5,65.9 114.7,63.8 132.6,84.7 93.2,104.5 69.5,96.8 105.7,78 83.3,109.9 95,109.8 138.3,82.3 103.2,84.6 89.4,101.8 92.5,102.4 85.4,122.4 89.5,74.8 98.4,100 105.5,117.2 102.5,113.8 108.4,111 125.7,61.4 127.3,85.5 109.6,116.2 122.4,57.1 120,70.9 138.3,113 70.8,128.1 122.9,79.6 104.1,107.1 114.1,100.2 94.4,106 112,72.7 107.8,67.3 94.7,82.9 118.3,100.4 114,93.5 97.6,86.7 105.2,118.6 150.4,73.1 135,103 84,93.5 101.9,95.6 135.6,80.8 89.3,77.1 103,46 122.8,103.4 115.1,110.9 64.9,95.6 133.6,107.6 116,81.5 100.8,109.6 104.9,95.5 86.2,79.7 85.6,78 88,94.1 114.5,68.4 128.8,71.5 122.2,119.6 141.1,91.3 90.4,94.5 108.4,102.3 120.2,107.1 97.8,96.7 100.2,90.6 125.4,92.7 156.8,69.3 97.7,78.1 97.8,106.4 100,108.7 120.4,81.3 126.8,107.9 97,94.5 125.2,88.8 108.4,77.2 136.9,88 122,67.1 89.4,104.5 111.6,84.9 81.2,107.3 131.3,94.1 110,95.2 92.2,110.8 103.6,127.4 111.5,78.8 113.6,90.9 141.2,94.9 107.3,107.8 131,102.6 124.6,89.2 115.4,97 109.5,74.1 126.3,95.3 106.6,109.4 132.4,86.2 112.5,107 120.9,93.6 81.2,120.6 111.1,102.9 94.7,87.3 122.7,107.3" fill="none" stroke="none" marker-start="url(#d)" marker-mid="url(#d)" marker-end="url(#d)"/>
<polyline points="36.2,132.3 43.3,131.1 52.1,130.3 61,128.5 69.9,124.9 78.7,120.5 83.3,120.3 92.2,114.1 101,107 109.9,99 118.8,90.1 125.6,81.7 130.5,73.2 135.3,65.9 140.2,58.6 143.8,52.5 147.5,47.7 148.2,45.3 149.9,42.8 151.6,38 152.4,33.1 153.1,31.9 153.6,25.8 154.3,16.1 154.8,12.4 159.6,8.8 164.5,5.1 165.6,5" fill="none" stroke="#555" stroke-width="1.1"/>
</g>
<rect x="90.6" y="118.5" width="65.5" height="10.5" fill="#fff" fill-opacity="0.72"/>
<text x="154.6" y="126.4" font-size="7.4" fill="#1c1c1c" text-anchor="end" stroke="#1c1c1c" stroke-width="0.15">Correlation: 0.3387</text>
</g>
</g></svg>
</svg></body></html>
